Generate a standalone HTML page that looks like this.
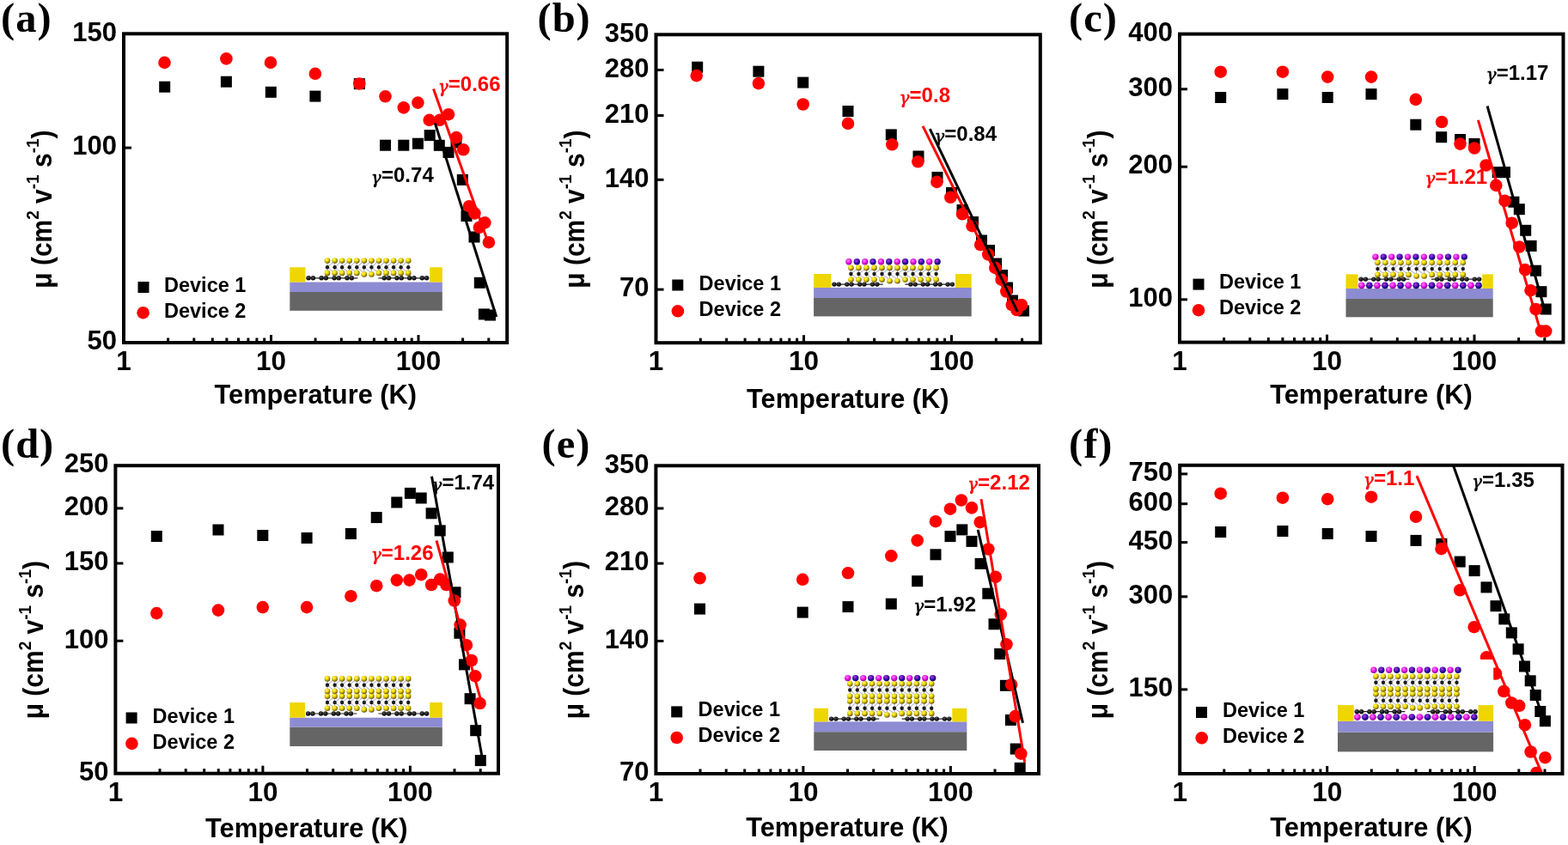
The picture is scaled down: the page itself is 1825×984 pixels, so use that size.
<!DOCTYPE html>
<html><head><meta charset="utf-8"><title>Temperature-dependent mobility</title>
<style>html,body{margin:0;padding:0;background:#fff;}svg{display:block;}</style></head>
<body>
<svg width="1825" height="984" viewBox="0 0 1825 984">
<rect width="1825" height="984" fill="#fff"/>
<defs>
<radialGradient id="gS" cx="38%" cy="32%" r="70%"><stop offset="0" stop-color="#ffff60"/><stop offset="0.45" stop-color="#ecd400"/><stop offset="1" stop-color="#5e4c00"/></radialGradient>
<radialGradient id="gMag" cx="40%" cy="35%" r="65%"><stop offset="0" stop-color="#ff80ff"/><stop offset="0.6" stop-color="#e010e0"/><stop offset="1" stop-color="#900090"/></radialGradient>
<radialGradient id="gBlu" cx="40%" cy="35%" r="65%"><stop offset="0" stop-color="#c030e0"/><stop offset="0.6" stop-color="#3010b0"/><stop offset="1" stop-color="#100050"/></radialGradient>
<radialGradient id="gC" cx="40%" cy="35%" r="70%"><stop offset="0" stop-color="#505050"/><stop offset="0.6" stop-color="#151515"/><stop offset="1" stop-color="#000"/></radialGradient>
<linearGradient id="gSi" x1="0" y1="0" x2="0" y2="1"><stop offset="0" stop-color="#676767"/><stop offset="1" stop-color="#626262"/></linearGradient>
</defs>
<g id="panel-a">
<clipPath id="clipa"><rect x="144" y="39.3" width="446.2" height="359.7"/></clipPath>
<rect x="337.3" y="340" width="177.5" height="21.8" fill="#656565"/>
<rect x="337.3" y="328.5" width="177.5" height="11.5" fill="#8d8bd2"/>
<rect x="337.3" y="311.3" width="18.2" height="17.2" fill="#efd600"/>
<rect x="500.2" y="311.3" width="14.6" height="17.2" fill="#efd600"/>
<line x1="356.5" y1="323.8" x2="416.4" y2="323.8" stroke="#222" stroke-width="1.2"/>
<circle cx="359.1" cy="323.8" r="2.7" fill="url(#gC)"/>
<circle cx="364.4" cy="323.8" r="2.7" fill="url(#gC)"/>
<circle cx="374.1" cy="323.8" r="2.7" fill="url(#gC)"/>
<circle cx="379.4" cy="323.8" r="2.7" fill="url(#gC)"/>
<circle cx="389.1" cy="323.8" r="2.7" fill="url(#gC)"/>
<circle cx="394.3" cy="323.8" r="2.7" fill="url(#gC)"/>
<circle cx="404" cy="323.8" r="2.7" fill="url(#gC)"/>
<circle cx="409.3" cy="323.8" r="2.7" fill="url(#gC)"/>
<line x1="440.4" y1="323.8" x2="499.2" y2="323.8" stroke="#222" stroke-width="1.2"/>
<circle cx="496.6" cy="323.8" r="2.7" fill="url(#gC)"/>
<circle cx="491.3" cy="323.8" r="2.7" fill="url(#gC)"/>
<circle cx="481.9" cy="323.8" r="2.7" fill="url(#gC)"/>
<circle cx="476.6" cy="323.8" r="2.7" fill="url(#gC)"/>
<circle cx="467.2" cy="323.8" r="2.7" fill="url(#gC)"/>
<circle cx="461.9" cy="323.8" r="2.7" fill="url(#gC)"/>
<circle cx="452.5" cy="323.8" r="2.7" fill="url(#gC)"/>
<circle cx="447.2" cy="323.8" r="2.7" fill="url(#gC)"/>
<g stroke="#9a9ab8" stroke-width="0.9"><line x1="381" y1="303.5" x2="381" y2="317.9"/><line x1="381" y1="311.3" x2="389.6" y2="303.5"/><line x1="381" y1="311.3" x2="389.6" y2="317.9"/><line x1="389.6" y1="303.5" x2="389.6" y2="317.9"/><line x1="389.6" y1="311.3" x2="398.1" y2="303.5"/><line x1="389.6" y1="311.3" x2="398.1" y2="317.9"/><line x1="398.1" y1="303.5" x2="398.1" y2="317.9"/><line x1="398.1" y1="311.3" x2="406.7" y2="303.5"/><line x1="398.1" y1="311.3" x2="406.7" y2="317.9"/><line x1="406.7" y1="303.5" x2="406.7" y2="317.9"/><line x1="406.7" y1="311.3" x2="415.3" y2="303.5"/><line x1="406.7" y1="311.3" x2="415.3" y2="317.9"/><line x1="415.3" y1="303.5" x2="415.3" y2="317.9"/><line x1="415.3" y1="311.3" x2="423.8" y2="303.5"/><line x1="415.3" y1="311.3" x2="423.8" y2="317.9"/><line x1="423.8" y1="303.5" x2="423.8" y2="317.9"/><line x1="423.8" y1="311.3" x2="432.4" y2="303.5"/><line x1="423.8" y1="311.3" x2="432.4" y2="317.9"/><line x1="432.4" y1="303.5" x2="432.4" y2="317.9"/><line x1="432.4" y1="311.3" x2="440.9" y2="303.5"/><line x1="432.4" y1="311.3" x2="440.9" y2="317.9"/><line x1="440.9" y1="303.5" x2="440.9" y2="317.9"/><line x1="440.9" y1="311.3" x2="449.5" y2="303.5"/><line x1="440.9" y1="311.3" x2="449.5" y2="317.9"/><line x1="449.5" y1="303.5" x2="449.5" y2="317.9"/><line x1="449.5" y1="311.3" x2="458.1" y2="303.5"/><line x1="449.5" y1="311.3" x2="458.1" y2="317.9"/><line x1="458.1" y1="303.5" x2="458.1" y2="317.9"/><line x1="458.1" y1="311.3" x2="466.6" y2="303.5"/><line x1="458.1" y1="311.3" x2="466.6" y2="317.9"/><line x1="466.6" y1="303.5" x2="466.6" y2="317.9"/><line x1="466.6" y1="311.3" x2="475.2" y2="303.5"/><line x1="466.6" y1="311.3" x2="475.2" y2="317.9"/><line x1="475.2" y1="303.5" x2="475.2" y2="317.9"/></g>
<circle cx="381" cy="303.5" r="3.3" fill="url(#gS)"/>
<circle cx="381" cy="311.3" r="2.2" fill="#1a1a1a"/>
<circle cx="381" cy="317.9" r="3.3" fill="url(#gS)"/>
<circle cx="389.6" cy="303.5" r="3.3" fill="url(#gS)"/>
<circle cx="389.6" cy="311.3" r="2.2" fill="#1a1a1a"/>
<circle cx="389.6" cy="317.9" r="3.3" fill="url(#gS)"/>
<circle cx="398.1" cy="303.5" r="3.3" fill="url(#gS)"/>
<circle cx="398.1" cy="311.3" r="2.2" fill="#1a1a1a"/>
<circle cx="398.1" cy="317.9" r="3.3" fill="url(#gS)"/>
<circle cx="406.7" cy="303.5" r="3.3" fill="url(#gS)"/>
<circle cx="406.7" cy="311.3" r="2.2" fill="#1a1a1a"/>
<circle cx="406.7" cy="317.9" r="3.3" fill="url(#gS)"/>
<circle cx="415.3" cy="303.5" r="3.3" fill="url(#gS)"/>
<circle cx="415.3" cy="311.3" r="2.2" fill="#1a1a1a"/>
<circle cx="415.3" cy="317.9" r="3.3" fill="url(#gS)"/>
<circle cx="423.8" cy="303.5" r="3.3" fill="url(#gS)"/>
<circle cx="423.8" cy="311.3" r="2.2" fill="#1a1a1a"/>
<circle cx="423.8" cy="319.5" r="3.3" fill="url(#gS)"/>
<circle cx="432.4" cy="303.5" r="3.3" fill="url(#gS)"/>
<circle cx="432.4" cy="311.3" r="2.2" fill="#1a1a1a"/>
<circle cx="432.4" cy="319.5" r="3.3" fill="url(#gS)"/>
<circle cx="440.9" cy="303.5" r="3.3" fill="url(#gS)"/>
<circle cx="440.9" cy="311.3" r="2.2" fill="#1a1a1a"/>
<circle cx="440.9" cy="317.9" r="3.3" fill="url(#gS)"/>
<circle cx="449.5" cy="303.5" r="3.3" fill="url(#gS)"/>
<circle cx="449.5" cy="311.3" r="2.2" fill="#1a1a1a"/>
<circle cx="449.5" cy="317.9" r="3.3" fill="url(#gS)"/>
<circle cx="458.1" cy="303.5" r="3.3" fill="url(#gS)"/>
<circle cx="458.1" cy="311.3" r="2.2" fill="#1a1a1a"/>
<circle cx="458.1" cy="317.9" r="3.3" fill="url(#gS)"/>
<circle cx="466.6" cy="303.5" r="3.3" fill="url(#gS)"/>
<circle cx="466.6" cy="311.3" r="2.2" fill="#1a1a1a"/>
<circle cx="466.6" cy="317.9" r="3.3" fill="url(#gS)"/>
<circle cx="475.2" cy="303.5" r="3.3" fill="url(#gS)"/>
<circle cx="475.2" cy="311.3" r="2.2" fill="#1a1a1a"/>
<circle cx="475.2" cy="317.9" r="3.3" fill="url(#gS)"/>
<g clip-path="url(#clipa)">
<rect x="185.2" y="94.7" width="13" height="13" fill="#000"/>
<rect x="256.9" y="88.7" width="13" height="13" fill="#000"/>
<rect x="308.8" y="100.8" width="13" height="13" fill="#000"/>
<rect x="360.4" y="105.6" width="13" height="13" fill="#000"/>
<rect x="411.8" y="91.1" width="13" height="13" fill="#000"/>
<rect x="442" y="162.7" width="13" height="13" fill="#000"/>
<rect x="463.3" y="162.7" width="13" height="13" fill="#000"/>
<rect x="479.9" y="160.7" width="13" height="13" fill="#000"/>
<rect x="493.7" y="151.1" width="13" height="13" fill="#000"/>
<rect x="504.8" y="162.8" width="13" height="13" fill="#000"/>
<rect x="515.5" y="170.9" width="13" height="13" fill="#000"/>
<rect x="524.5" y="159.5" width="13" height="13" fill="#000"/>
<rect x="531.8" y="202.9" width="13" height="13" fill="#000"/>
<rect x="536.5" y="245" width="13" height="13" fill="#000"/>
<rect x="545.5" y="269.5" width="13" height="13" fill="#000"/>
<rect x="551.8" y="322.8" width="13" height="13" fill="#000"/>
<rect x="556.9" y="359.4" width="13" height="13" fill="#000"/>
<rect x="564" y="360.5" width="13" height="13" fill="#000"/>
<circle cx="191.5" cy="72.9" r="7.3" fill="#ff0000"/>
<circle cx="263.4" cy="68.4" r="7.3" fill="#ff0000"/>
<circle cx="315" cy="72.9" r="7.3" fill="#ff0000"/>
<circle cx="366.9" cy="85.8" r="7.3" fill="#ff0000"/>
<circle cx="418.3" cy="97.5" r="7.3" fill="#ff0000"/>
<circle cx="448.5" cy="112.3" r="7.3" fill="#ff0000"/>
<circle cx="469.8" cy="125.4" r="7.3" fill="#ff0000"/>
<circle cx="486.4" cy="119.6" r="7.3" fill="#ff0000"/>
<circle cx="499.7" cy="139.8" r="7.3" fill="#ff0000"/>
<circle cx="511.8" cy="139.8" r="7.3" fill="#ff0000"/>
<circle cx="522" cy="133.2" r="7.3" fill="#ff0000"/>
<circle cx="531.1" cy="160.1" r="7.3" fill="#ff0000"/>
<circle cx="539.3" cy="174.3" r="7.3" fill="#ff0000"/>
<circle cx="546" cy="240.2" r="7.3" fill="#ff0000"/>
<circle cx="552.4" cy="248.4" r="7.3" fill="#ff0000"/>
<circle cx="557.9" cy="264.8" r="7.3" fill="#ff0000"/>
<circle cx="564.3" cy="259.4" r="7.3" fill="#ff0000"/>
<circle cx="568.9" cy="282.2" r="7.3" fill="#ff0000"/>
<line x1="506.3" y1="143.4" x2="577.8" y2="369" stroke="#000" stroke-width="3"/>
<line x1="504.5" y1="103.6" x2="568" y2="282" stroke="#ff0000" stroke-width="3"/>
</g>
<rect x="144" y="39.3" width="446.2" height="359.7" fill="none" stroke="#000" stroke-width="4"/>
<g stroke="#000" stroke-width="3"><line x1="195.6" y1="399" x2="195.6" y2="393.5"/><line x1="225.8" y1="399" x2="225.8" y2="393.5"/><line x1="247.3" y1="399" x2="247.3" y2="393.5"/><line x1="263.9" y1="399" x2="263.9" y2="393.5"/><line x1="277.5" y1="399" x2="277.5" y2="393.5"/><line x1="288.9" y1="399" x2="288.9" y2="393.5"/><line x1="298.9" y1="399" x2="298.9" y2="393.5"/><line x1="307.7" y1="399" x2="307.7" y2="393.5"/><line x1="315.5" y1="399" x2="315.5" y2="390"/><line x1="367.1" y1="399" x2="367.1" y2="393.5"/><line x1="397.3" y1="399" x2="397.3" y2="393.5"/><line x1="418.8" y1="399" x2="418.8" y2="393.5"/><line x1="435.4" y1="399" x2="435.4" y2="393.5"/><line x1="449" y1="399" x2="449" y2="393.5"/><line x1="460.4" y1="399" x2="460.4" y2="393.5"/><line x1="470.4" y1="399" x2="470.4" y2="393.5"/><line x1="479.2" y1="399" x2="479.2" y2="393.5"/><line x1="487" y1="399" x2="487" y2="390"/><line x1="538.6" y1="399" x2="538.6" y2="393.5"/><line x1="568.8" y1="399" x2="568.8" y2="393.5"/><line x1="144" y1="172.1" x2="153" y2="172.1"/></g>
<g font-family="'Liberation Sans', Arial, sans-serif" font-weight="bold" font-size="31.5" fill="#000">
<text x="144" y="431" text-anchor="middle">1</text>
<text x="315.5" y="431" text-anchor="middle">10</text>
<text x="487" y="431" text-anchor="middle">100</text>
</g>
<g font-family="'Liberation Sans', Arial, sans-serif" font-weight="bold" font-size="31" fill="#000">
<text x="136" y="407.2" text-anchor="end">50</text>
<text x="136" y="180.3" text-anchor="end">100</text>
<text x="136" y="47.5" text-anchor="end">150</text>
</g>
<text x="367.3" y="469.5" text-anchor="middle" font-family="'Liberation Sans', Arial, sans-serif" font-weight="bold" font-size="30.8">Temperature (K)</text>
<text transform="translate(60,243.6) rotate(-90) scale(1,1.09)" text-anchor="middle" font-family="'Liberation Sans', Arial, sans-serif" font-weight="bold" font-size="30">μ (cm<tspan font-size="19" dy="-13.5">2</tspan><tspan dy="13.5"> v</tspan><tspan font-size="19" dy="-13.5">-1</tspan><tspan dy="13.5"> s</tspan><tspan font-size="19" dy="-13.5">-1</tspan><tspan dy="13.5">)</tspan></text>
<rect x="160.5" y="328" width="13" height="13" fill="#000"/>
<circle cx="166.6" cy="364.2" r="7.3" fill="#ff0000"/>
<text x="191" y="340" font-family="'Liberation Sans', Arial, sans-serif" font-weight="bold" font-size="23.5">Device 1</text>
<text x="191" y="369.6" font-family="'Liberation Sans', Arial, sans-serif" font-weight="bold" font-size="23.5">Device 2</text>
<text x="509.9" y="107.6" fill="#ff0000" stroke="#ff0000" stroke-width="0.6" font-family="'DejaVu Serif', serif" font-style="italic" font-size="19.5">γ</text>
<text x="521.8" y="106" fill="#ff0000" font-family="'Liberation Sans', Arial, sans-serif" font-weight="bold" font-size="24">=0.66</text>
<text x="432.1" y="213.5" fill="#000" stroke="#000" stroke-width="0.6" font-family="'DejaVu Serif', serif" font-style="italic" font-size="19.5">γ</text>
<text x="444" y="211.9" fill="#000" font-family="'Liberation Sans', Arial, sans-serif" font-weight="bold" font-size="24">=0.74</text>
<text x="1" y="37" font-family="'Liberation Serif', 'Times New Roman', serif" font-weight="bold" font-size="48.5" letter-spacing="1">(a)</text>
</g>
<g id="panel-b">
<clipPath id="clipb"><rect x="763.5" y="40.3" width="447.3" height="358.9"/></clipPath>
<rect x="947.1" y="347" width="183.6" height="21.4" fill="#656565"/>
<rect x="947.1" y="334.9" width="183.6" height="12.1" fill="#8d8bd2"/>
<rect x="947.1" y="319" width="20.3" height="15.9" fill="#efd600"/>
<rect x="1112" y="319" width="18.7" height="15.9" fill="#efd600"/>
<line x1="968.4" y1="331.1" x2="1027.7" y2="331.1" stroke="#222" stroke-width="1.2"/>
<circle cx="971" cy="331.1" r="2.7" fill="url(#gC)"/>
<circle cx="976.3" cy="331.1" r="2.7" fill="url(#gC)"/>
<circle cx="985.8" cy="331.1" r="2.7" fill="url(#gC)"/>
<circle cx="991.1" cy="331.1" r="2.7" fill="url(#gC)"/>
<circle cx="1000.6" cy="331.1" r="2.7" fill="url(#gC)"/>
<circle cx="1005.9" cy="331.1" r="2.7" fill="url(#gC)"/>
<circle cx="1015.5" cy="331.1" r="2.7" fill="url(#gC)"/>
<circle cx="1020.8" cy="331.1" r="2.7" fill="url(#gC)"/>
<line x1="1053.4" y1="331.1" x2="1111" y2="331.1" stroke="#222" stroke-width="1.2"/>
<circle cx="1108.4" cy="331.1" r="2.7" fill="url(#gC)"/>
<circle cx="1103.1" cy="331.1" r="2.7" fill="url(#gC)"/>
<circle cx="1094" cy="331.1" r="2.7" fill="url(#gC)"/>
<circle cx="1088.7" cy="331.1" r="2.7" fill="url(#gC)"/>
<circle cx="1079.6" cy="331.1" r="2.7" fill="url(#gC)"/>
<circle cx="1074.3" cy="331.1" r="2.7" fill="url(#gC)"/>
<circle cx="1065.2" cy="331.1" r="2.7" fill="url(#gC)"/>
<circle cx="1059.9" cy="331.1" r="2.7" fill="url(#gC)"/>
<g stroke="#9a9ab8" stroke-width="0.9"><line x1="990.4" y1="311.9" x2="990.4" y2="325.6"/><line x1="990.4" y1="319" x2="999.4" y2="311.9"/><line x1="990.4" y1="319" x2="999.4" y2="325.6"/><line x1="999.4" y1="311.9" x2="999.4" y2="325.6"/><line x1="999.4" y1="319" x2="1008.4" y2="311.9"/><line x1="999.4" y1="319" x2="1008.4" y2="325.6"/><line x1="1008.4" y1="311.9" x2="1008.4" y2="325.6"/><line x1="1008.4" y1="319" x2="1017.5" y2="311.9"/><line x1="1008.4" y1="319" x2="1017.5" y2="325.6"/><line x1="1017.5" y1="311.9" x2="1017.5" y2="325.6"/><line x1="1017.5" y1="319" x2="1026.5" y2="311.9"/><line x1="1017.5" y1="319" x2="1026.5" y2="325.6"/><line x1="1026.5" y1="311.9" x2="1026.5" y2="325.6"/><line x1="1026.5" y1="319" x2="1035.5" y2="311.9"/><line x1="1026.5" y1="319" x2="1035.5" y2="325.6"/><line x1="1035.5" y1="311.9" x2="1035.5" y2="325.6"/><line x1="1035.5" y1="319" x2="1044.5" y2="311.9"/><line x1="1035.5" y1="319" x2="1044.5" y2="325.6"/><line x1="1044.5" y1="311.9" x2="1044.5" y2="325.6"/><line x1="1044.5" y1="319" x2="1053.5" y2="311.9"/><line x1="1044.5" y1="319" x2="1053.5" y2="325.6"/><line x1="1053.5" y1="311.9" x2="1053.5" y2="325.6"/><line x1="1053.5" y1="319" x2="1062.5" y2="311.9"/><line x1="1053.5" y1="319" x2="1062.5" y2="325.6"/><line x1="1062.5" y1="311.9" x2="1062.5" y2="325.6"/><line x1="1062.5" y1="319" x2="1071.6" y2="311.9"/><line x1="1062.5" y1="319" x2="1071.6" y2="325.6"/><line x1="1071.6" y1="311.9" x2="1071.6" y2="325.6"/><line x1="1071.6" y1="319" x2="1080.6" y2="311.9"/><line x1="1071.6" y1="319" x2="1080.6" y2="325.6"/><line x1="1080.6" y1="311.9" x2="1080.6" y2="325.6"/><line x1="1080.6" y1="319" x2="1089.6" y2="311.9"/><line x1="1080.6" y1="319" x2="1089.6" y2="325.6"/><line x1="1089.6" y1="311.9" x2="1089.6" y2="325.6"/></g>
<circle cx="990.4" cy="311.9" r="3.3" fill="url(#gS)"/>
<circle cx="990.4" cy="319" r="2.2" fill="#1a1a1a"/>
<circle cx="990.4" cy="325.6" r="3.3" fill="url(#gS)"/>
<circle cx="999.4" cy="311.9" r="3.3" fill="url(#gS)"/>
<circle cx="999.4" cy="319" r="2.2" fill="#1a1a1a"/>
<circle cx="999.4" cy="325.6" r="3.3" fill="url(#gS)"/>
<circle cx="1008.4" cy="311.9" r="3.3" fill="url(#gS)"/>
<circle cx="1008.4" cy="319" r="2.2" fill="#1a1a1a"/>
<circle cx="1008.4" cy="325.6" r="3.3" fill="url(#gS)"/>
<circle cx="1017.5" cy="311.9" r="3.3" fill="url(#gS)"/>
<circle cx="1017.5" cy="319" r="2.2" fill="#1a1a1a"/>
<circle cx="1017.5" cy="325.6" r="3.3" fill="url(#gS)"/>
<circle cx="1026.5" cy="311.9" r="3.3" fill="url(#gS)"/>
<circle cx="1026.5" cy="319" r="2.2" fill="#1a1a1a"/>
<circle cx="1026.5" cy="325.6" r="3.3" fill="url(#gS)"/>
<circle cx="1035.5" cy="311.9" r="3.3" fill="url(#gS)"/>
<circle cx="1035.5" cy="319" r="2.2" fill="#1a1a1a"/>
<circle cx="1035.5" cy="327.2" r="3.3" fill="url(#gS)"/>
<circle cx="1044.5" cy="311.9" r="3.3" fill="url(#gS)"/>
<circle cx="1044.5" cy="319" r="2.2" fill="#1a1a1a"/>
<circle cx="1044.5" cy="327.2" r="3.3" fill="url(#gS)"/>
<circle cx="1053.5" cy="311.9" r="3.3" fill="url(#gS)"/>
<circle cx="1053.5" cy="319" r="2.2" fill="#1a1a1a"/>
<circle cx="1053.5" cy="325.6" r="3.3" fill="url(#gS)"/>
<circle cx="1062.5" cy="311.9" r="3.3" fill="url(#gS)"/>
<circle cx="1062.5" cy="319" r="2.2" fill="#1a1a1a"/>
<circle cx="1062.5" cy="325.6" r="3.3" fill="url(#gS)"/>
<circle cx="1071.6" cy="311.9" r="3.3" fill="url(#gS)"/>
<circle cx="1071.6" cy="319" r="2.2" fill="#1a1a1a"/>
<circle cx="1071.6" cy="325.6" r="3.3" fill="url(#gS)"/>
<circle cx="1080.6" cy="311.9" r="3.3" fill="url(#gS)"/>
<circle cx="1080.6" cy="319" r="2.2" fill="#1a1a1a"/>
<circle cx="1080.6" cy="325.6" r="3.3" fill="url(#gS)"/>
<circle cx="1089.6" cy="311.9" r="3.3" fill="url(#gS)"/>
<circle cx="1089.6" cy="319" r="2.2" fill="#1a1a1a"/>
<circle cx="1089.6" cy="325.6" r="3.3" fill="url(#gS)"/>
<circle cx="987.9" cy="304.8" r="3.7" fill="url(#gMag)"/>
<circle cx="997.3" cy="304.8" r="3.7" fill="url(#gBlu)"/>
<circle cx="1006.7" cy="304.8" r="3.7" fill="url(#gMag)"/>
<circle cx="1016" cy="304.8" r="3.7" fill="url(#gBlu)"/>
<circle cx="1025.4" cy="304.8" r="3.7" fill="url(#gMag)"/>
<circle cx="1034.8" cy="304.8" r="3.7" fill="url(#gBlu)"/>
<circle cx="1044.2" cy="304.8" r="3.7" fill="url(#gMag)"/>
<circle cx="1053.6" cy="304.8" r="3.7" fill="url(#gBlu)"/>
<circle cx="1063" cy="304.8" r="3.7" fill="url(#gMag)"/>
<circle cx="1072.3" cy="304.8" r="3.7" fill="url(#gBlu)"/>
<circle cx="1081.7" cy="304.8" r="3.7" fill="url(#gMag)"/>
<circle cx="1091.1" cy="304.8" r="3.7" fill="url(#gBlu)"/>
<g clip-path="url(#clipb)">
<rect x="805.2" y="71.7" width="13" height="13" fill="#000"/>
<rect x="876.4" y="76.7" width="13" height="13" fill="#000"/>
<rect x="928.2" y="89.6" width="13" height="13" fill="#000"/>
<rect x="980.5" y="123" width="13" height="13" fill="#000"/>
<rect x="1030.8" y="150.4" width="13" height="13" fill="#000"/>
<rect x="1062.5" y="175.5" width="13" height="13" fill="#000"/>
<rect x="1084.5" y="200" width="13" height="13" fill="#000"/>
<rect x="1101" y="218" width="13" height="13" fill="#000"/>
<rect x="1113.5" y="238" width="13" height="13" fill="#000"/>
<rect x="1126" y="252" width="13" height="13" fill="#000"/>
<rect x="1136" y="273.5" width="13" height="13" fill="#000"/>
<rect x="1145" y="285" width="13" height="13" fill="#000"/>
<rect x="1153" y="300.5" width="13" height="13" fill="#000"/>
<rect x="1160" y="314" width="13" height="13" fill="#000"/>
<rect x="1166" y="328.5" width="13" height="13" fill="#000"/>
<rect x="1172" y="343.5" width="13" height="13" fill="#000"/>
<rect x="1178.5" y="350.5" width="13" height="13" fill="#000"/>
<rect x="1185" y="355.5" width="13" height="13" fill="#000"/>
<circle cx="810.7" cy="88.1" r="7.3" fill="#ff0000"/>
<circle cx="882.9" cy="97.1" r="7.3" fill="#ff0000"/>
<circle cx="934.7" cy="121.5" r="7.3" fill="#ff0000"/>
<circle cx="987" cy="143.9" r="7.3" fill="#ff0000"/>
<circle cx="1038.3" cy="168.3" r="7.3" fill="#ff0000"/>
<circle cx="1068.4" cy="188.3" r="7.3" fill="#ff0000"/>
<circle cx="1090.4" cy="211.9" r="7.3" fill="#ff0000"/>
<circle cx="1106.3" cy="229.8" r="7.3" fill="#ff0000"/>
<circle cx="1120.1" cy="249.3" r="7.3" fill="#ff0000"/>
<circle cx="1131.5" cy="263.1" r="7.3" fill="#ff0000"/>
<circle cx="1141.2" cy="285" r="7.3" fill="#ff0000"/>
<circle cx="1150.2" cy="296.4" r="7.3" fill="#ff0000"/>
<circle cx="1158.3" cy="311.9" r="7.3" fill="#ff0000"/>
<circle cx="1165.6" cy="325.7" r="7.3" fill="#ff0000"/>
<circle cx="1171.3" cy="339.5" r="7.3" fill="#ff0000"/>
<circle cx="1177.8" cy="355" r="7.3" fill="#ff0000"/>
<circle cx="1183.5" cy="361" r="7.3" fill="#ff0000"/>
<circle cx="1188.9" cy="355" r="7.3" fill="#ff0000"/>
<line x1="1074.1" y1="146.9" x2="1180" y2="360" stroke="#ff0000" stroke-width="3"/>
<line x1="1082.3" y1="150.1" x2="1184.3" y2="363.1" stroke="#000" stroke-width="3"/>
</g>
<rect x="763.5" y="40.3" width="447.3" height="358.9" fill="none" stroke="#000" stroke-width="4"/>
<g stroke="#000" stroke-width="3"><line x1="815.3" y1="399.2" x2="815.3" y2="393.7"/><line x1="845.6" y1="399.2" x2="845.6" y2="393.7"/><line x1="867.1" y1="399.2" x2="867.1" y2="393.7"/><line x1="883.7" y1="399.2" x2="883.7" y2="393.7"/><line x1="897.3" y1="399.2" x2="897.3" y2="393.7"/><line x1="908.9" y1="399.2" x2="908.9" y2="393.7"/><line x1="918.8" y1="399.2" x2="918.8" y2="393.7"/><line x1="927.6" y1="399.2" x2="927.6" y2="393.7"/><line x1="935.5" y1="399.2" x2="935.5" y2="390.2"/><line x1="987.3" y1="399.2" x2="987.3" y2="393.7"/><line x1="1017.6" y1="399.2" x2="1017.6" y2="393.7"/><line x1="1039.1" y1="399.2" x2="1039.1" y2="393.7"/><line x1="1055.7" y1="399.2" x2="1055.7" y2="393.7"/><line x1="1069.3" y1="399.2" x2="1069.3" y2="393.7"/><line x1="1080.9" y1="399.2" x2="1080.9" y2="393.7"/><line x1="1090.8" y1="399.2" x2="1090.8" y2="393.7"/><line x1="1099.6" y1="399.2" x2="1099.6" y2="393.7"/><line x1="1107.5" y1="399.2" x2="1107.5" y2="390.2"/><line x1="1159.3" y1="399.2" x2="1159.3" y2="393.7"/><line x1="1189.6" y1="399.2" x2="1189.6" y2="393.7"/><line x1="763.5" y1="337.1" x2="772.5" y2="337.1"/><line x1="763.5" y1="209.3" x2="772.5" y2="209.3"/><line x1="763.5" y1="134.5" x2="772.5" y2="134.5"/><line x1="763.5" y1="81.5" x2="772.5" y2="81.5"/></g>
<g font-family="'Liberation Sans', Arial, sans-serif" font-weight="bold" font-size="31.5" fill="#000">
<text x="763.5" y="431.2" text-anchor="middle">1</text>
<text x="935.5" y="431.2" text-anchor="middle">10</text>
<text x="1107.5" y="431.2" text-anchor="middle">100</text>
</g>
<g font-family="'Liberation Sans', Arial, sans-serif" font-weight="bold" font-size="31" fill="#000">
<text x="755.5" y="345.3" text-anchor="end">70</text>
<text x="755.5" y="217.5" text-anchor="end">140</text>
<text x="755.5" y="142.7" text-anchor="end">210</text>
<text x="755.5" y="89.7" text-anchor="end">280</text>
<text x="755.5" y="48.5" text-anchor="end">350</text>
</g>
<text x="986.8" y="474.5" text-anchor="middle" font-family="'Liberation Sans', Arial, sans-serif" font-weight="bold" font-size="30.8">Temperature (K)</text>
<text transform="translate(679.5,243.6) rotate(-90) scale(1,1.09)" text-anchor="middle" font-family="'Liberation Sans', Arial, sans-serif" font-weight="bold" font-size="30">μ (cm<tspan font-size="19" dy="-13.5">2</tspan><tspan dy="13.5"> v</tspan><tspan font-size="19" dy="-13.5">-1</tspan><tspan dy="13.5"> s</tspan><tspan font-size="19" dy="-13.5">-1</tspan><tspan dy="13.5">)</tspan></text>
<rect x="782.3" y="325.5" width="13" height="13" fill="#000"/>
<circle cx="788.9" cy="362.3" r="7.3" fill="#ff0000"/>
<text x="813.6" y="337.7" font-family="'Liberation Sans', Arial, sans-serif" font-weight="bold" font-size="23.5">Device 1</text>
<text x="813.6" y="367.6" font-family="'Liberation Sans', Arial, sans-serif" font-weight="bold" font-size="23.5">Device 2</text>
<text x="1046.7" y="120.9" fill="#ff0000" stroke="#ff0000" stroke-width="0.6" font-family="'DejaVu Serif', serif" font-style="italic" font-size="19.5">γ</text>
<text x="1058.6" y="119.3" fill="#ff0000" font-family="'Liberation Sans', Arial, sans-serif" font-weight="bold" font-size="24">=0.8</text>
<text x="1087.4" y="165.6" fill="#000" stroke="#000" stroke-width="0.6" font-family="'DejaVu Serif', serif" font-style="italic" font-size="19.5">γ</text>
<text x="1099.3" y="164" fill="#000" font-family="'Liberation Sans', Arial, sans-serif" font-weight="bold" font-size="24">=0.84</text>
<text x="625.5" y="37" font-family="'Liberation Serif', 'Times New Roman', serif" font-weight="bold" font-size="48.5" letter-spacing="1">(b)</text>
</g>
<g id="panel-c">
<clipPath id="clipc"><rect x="1373" y="39.6" width="446.5" height="359"/></clipPath>
<rect x="1566.5" y="348" width="171.2" height="21.3" fill="#656565"/>
<rect x="1566.5" y="336" width="171.2" height="12" fill="#8d8bd2"/>
<rect x="1566.5" y="319.4" width="14" height="16.6" fill="#efd600"/>
<rect x="1725.2" y="319.4" width="12.5" height="16.6" fill="#efd600"/>
<line x1="1584.7" y1="332.4" x2="1721" y2="332.4" stroke="#b070b0" stroke-width="1"/>
<circle cx="1584.7" cy="332.4" r="3.8" fill="url(#gMag)"/>
<circle cx="1593.8" cy="332.4" r="3.8" fill="url(#gBlu)"/>
<circle cx="1602.9" cy="332.4" r="3.8" fill="url(#gMag)"/>
<circle cx="1612" cy="332.4" r="3.8" fill="url(#gBlu)"/>
<circle cx="1621" cy="332.4" r="3.8" fill="url(#gMag)"/>
<circle cx="1630.1" cy="332.4" r="3.8" fill="url(#gBlu)"/>
<circle cx="1639.2" cy="332.4" r="3.8" fill="url(#gMag)"/>
<circle cx="1648.3" cy="332.4" r="3.8" fill="url(#gBlu)"/>
<circle cx="1657.4" cy="332.4" r="3.8" fill="url(#gMag)"/>
<circle cx="1666.5" cy="332.4" r="3.8" fill="url(#gBlu)"/>
<circle cx="1675.6" cy="332.4" r="3.8" fill="url(#gMag)"/>
<circle cx="1684.7" cy="332.4" r="3.8" fill="url(#gBlu)"/>
<circle cx="1693.7" cy="332.4" r="3.8" fill="url(#gMag)"/>
<circle cx="1702.8" cy="332.4" r="3.8" fill="url(#gBlu)"/>
<circle cx="1711.9" cy="332.4" r="3.8" fill="url(#gMag)"/>
<circle cx="1721" cy="332.4" r="3.8" fill="url(#gBlu)"/>
<line x1="1581.5" y1="325.1" x2="1640.4" y2="325.1" stroke="#222" stroke-width="1.2"/>
<circle cx="1584.1" cy="325.1" r="2.7" fill="url(#gC)"/>
<circle cx="1589.4" cy="325.1" r="2.7" fill="url(#gC)"/>
<circle cx="1598.8" cy="325.1" r="2.7" fill="url(#gC)"/>
<circle cx="1604.1" cy="325.1" r="2.7" fill="url(#gC)"/>
<circle cx="1613.5" cy="325.1" r="2.7" fill="url(#gC)"/>
<circle cx="1618.9" cy="325.1" r="2.7" fill="url(#gC)"/>
<circle cx="1628.3" cy="325.1" r="2.7" fill="url(#gC)"/>
<circle cx="1633.6" cy="325.1" r="2.7" fill="url(#gC)"/>
<line x1="1665.9" y1="325.1" x2="1724.2" y2="325.1" stroke="#222" stroke-width="1.2"/>
<circle cx="1721.6" cy="325.1" r="2.7" fill="url(#gC)"/>
<circle cx="1716.3" cy="325.1" r="2.7" fill="url(#gC)"/>
<circle cx="1707" cy="325.1" r="2.7" fill="url(#gC)"/>
<circle cx="1701.7" cy="325.1" r="2.7" fill="url(#gC)"/>
<circle cx="1692.5" cy="325.1" r="2.7" fill="url(#gC)"/>
<circle cx="1687.2" cy="325.1" r="2.7" fill="url(#gC)"/>
<circle cx="1677.9" cy="325.1" r="2.7" fill="url(#gC)"/>
<circle cx="1672.6" cy="325.1" r="2.7" fill="url(#gC)"/>
<g stroke="#9a9ab8" stroke-width="0.9"><line x1="1603.4" y1="305.8" x2="1603.4" y2="319.9"/><line x1="1603.4" y1="313.1" x2="1612.4" y2="305.8"/><line x1="1603.4" y1="313.1" x2="1612.4" y2="319.9"/><line x1="1612.4" y1="305.8" x2="1612.4" y2="319.9"/><line x1="1612.4" y1="313.1" x2="1621.5" y2="305.8"/><line x1="1612.4" y1="313.1" x2="1621.5" y2="319.9"/><line x1="1621.5" y1="305.8" x2="1621.5" y2="319.9"/><line x1="1621.5" y1="313.1" x2="1630.5" y2="305.8"/><line x1="1621.5" y1="313.1" x2="1630.5" y2="319.9"/><line x1="1630.5" y1="305.8" x2="1630.5" y2="319.9"/><line x1="1630.5" y1="313.1" x2="1639.5" y2="305.8"/><line x1="1630.5" y1="313.1" x2="1639.5" y2="319.9"/><line x1="1639.5" y1="305.8" x2="1639.5" y2="319.9"/><line x1="1639.5" y1="313.1" x2="1648.6" y2="305.8"/><line x1="1639.5" y1="313.1" x2="1648.6" y2="319.9"/><line x1="1648.6" y1="305.8" x2="1648.6" y2="319.9"/><line x1="1648.6" y1="313.1" x2="1657.6" y2="305.8"/><line x1="1648.6" y1="313.1" x2="1657.6" y2="319.9"/><line x1="1657.6" y1="305.8" x2="1657.6" y2="319.9"/><line x1="1657.6" y1="313.1" x2="1666.7" y2="305.8"/><line x1="1657.6" y1="313.1" x2="1666.7" y2="319.9"/><line x1="1666.7" y1="305.8" x2="1666.7" y2="319.9"/><line x1="1666.7" y1="313.1" x2="1675.7" y2="305.8"/><line x1="1666.7" y1="313.1" x2="1675.7" y2="319.9"/><line x1="1675.7" y1="305.8" x2="1675.7" y2="319.9"/><line x1="1675.7" y1="313.1" x2="1684.7" y2="305.8"/><line x1="1675.7" y1="313.1" x2="1684.7" y2="319.9"/><line x1="1684.7" y1="305.8" x2="1684.7" y2="319.9"/><line x1="1684.7" y1="313.1" x2="1693.8" y2="305.8"/><line x1="1684.7" y1="313.1" x2="1693.8" y2="319.9"/><line x1="1693.8" y1="305.8" x2="1693.8" y2="319.9"/><line x1="1693.8" y1="313.1" x2="1702.8" y2="305.8"/><line x1="1693.8" y1="313.1" x2="1702.8" y2="319.9"/><line x1="1702.8" y1="305.8" x2="1702.8" y2="319.9"/></g>
<circle cx="1603.4" cy="305.8" r="3.3" fill="url(#gS)"/>
<circle cx="1603.4" cy="313.1" r="2.2" fill="#1a1a1a"/>
<circle cx="1603.4" cy="319.9" r="3.3" fill="url(#gS)"/>
<circle cx="1612.4" cy="305.8" r="3.3" fill="url(#gS)"/>
<circle cx="1612.4" cy="313.1" r="2.2" fill="#1a1a1a"/>
<circle cx="1612.4" cy="319.9" r="3.3" fill="url(#gS)"/>
<circle cx="1621.5" cy="305.8" r="3.3" fill="url(#gS)"/>
<circle cx="1621.5" cy="313.1" r="2.2" fill="#1a1a1a"/>
<circle cx="1621.5" cy="319.9" r="3.3" fill="url(#gS)"/>
<circle cx="1630.5" cy="305.8" r="3.3" fill="url(#gS)"/>
<circle cx="1630.5" cy="313.1" r="2.2" fill="#1a1a1a"/>
<circle cx="1630.5" cy="319.9" r="3.3" fill="url(#gS)"/>
<circle cx="1639.5" cy="305.8" r="3.3" fill="url(#gS)"/>
<circle cx="1639.5" cy="313.1" r="2.2" fill="#1a1a1a"/>
<circle cx="1639.5" cy="319.9" r="3.3" fill="url(#gS)"/>
<circle cx="1648.6" cy="305.8" r="3.3" fill="url(#gS)"/>
<circle cx="1648.6" cy="313.1" r="2.2" fill="#1a1a1a"/>
<circle cx="1648.6" cy="321.5" r="3.3" fill="url(#gS)"/>
<circle cx="1657.6" cy="305.8" r="3.3" fill="url(#gS)"/>
<circle cx="1657.6" cy="313.1" r="2.2" fill="#1a1a1a"/>
<circle cx="1657.6" cy="321.5" r="3.3" fill="url(#gS)"/>
<circle cx="1666.7" cy="305.8" r="3.3" fill="url(#gS)"/>
<circle cx="1666.7" cy="313.1" r="2.2" fill="#1a1a1a"/>
<circle cx="1666.7" cy="319.9" r="3.3" fill="url(#gS)"/>
<circle cx="1675.7" cy="305.8" r="3.3" fill="url(#gS)"/>
<circle cx="1675.7" cy="313.1" r="2.2" fill="#1a1a1a"/>
<circle cx="1675.7" cy="319.9" r="3.3" fill="url(#gS)"/>
<circle cx="1684.7" cy="305.8" r="3.3" fill="url(#gS)"/>
<circle cx="1684.7" cy="313.1" r="2.2" fill="#1a1a1a"/>
<circle cx="1684.7" cy="319.9" r="3.3" fill="url(#gS)"/>
<circle cx="1693.8" cy="305.8" r="3.3" fill="url(#gS)"/>
<circle cx="1693.8" cy="313.1" r="2.2" fill="#1a1a1a"/>
<circle cx="1693.8" cy="319.9" r="3.3" fill="url(#gS)"/>
<circle cx="1702.8" cy="305.8" r="3.3" fill="url(#gS)"/>
<circle cx="1702.8" cy="313.1" r="2.2" fill="#1a1a1a"/>
<circle cx="1702.8" cy="319.9" r="3.3" fill="url(#gS)"/>
<circle cx="1600.9" cy="299.1" r="3.7" fill="url(#gMag)"/>
<circle cx="1610.3" cy="299.1" r="3.7" fill="url(#gBlu)"/>
<circle cx="1619.7" cy="299.1" r="3.7" fill="url(#gMag)"/>
<circle cx="1629.1" cy="299.1" r="3.7" fill="url(#gBlu)"/>
<circle cx="1638.5" cy="299.1" r="3.7" fill="url(#gMag)"/>
<circle cx="1647.9" cy="299.1" r="3.7" fill="url(#gBlu)"/>
<circle cx="1657.3" cy="299.1" r="3.7" fill="url(#gMag)"/>
<circle cx="1666.7" cy="299.1" r="3.7" fill="url(#gBlu)"/>
<circle cx="1676.1" cy="299.1" r="3.7" fill="url(#gMag)"/>
<circle cx="1685.5" cy="299.1" r="3.7" fill="url(#gBlu)"/>
<circle cx="1694.9" cy="299.1" r="3.7" fill="url(#gMag)"/>
<circle cx="1704.3" cy="299.1" r="3.7" fill="url(#gBlu)"/>
<g clip-path="url(#clipc)">
<rect x="1414.2" y="107" width="13" height="13" fill="#000"/>
<rect x="1486.4" y="103.1" width="13" height="13" fill="#000"/>
<rect x="1538.7" y="107" width="13" height="13" fill="#000"/>
<rect x="1589.5" y="103.1" width="13" height="13" fill="#000"/>
<rect x="1641.3" y="138.7" width="13" height="13" fill="#000"/>
<rect x="1671.2" y="153.2" width="13" height="13" fill="#000"/>
<rect x="1693" y="156" width="13" height="13" fill="#000"/>
<rect x="1709.5" y="161" width="13" height="13" fill="#000"/>
<rect x="1736.7" y="194.1" width="13" height="13" fill="#000"/>
<rect x="1745" y="194.1" width="13" height="13" fill="#000"/>
<rect x="1755.4" y="228.7" width="13" height="13" fill="#000"/>
<rect x="1761.8" y="237.2" width="13" height="13" fill="#000"/>
<rect x="1769.2" y="261.8" width="13" height="13" fill="#000"/>
<rect x="1775.6" y="279.9" width="13" height="13" fill="#000"/>
<rect x="1781" y="308.7" width="13" height="13" fill="#000"/>
<rect x="1787.4" y="333.2" width="13" height="13" fill="#000"/>
<rect x="1792.7" y="353.5" width="13" height="13" fill="#000"/>
<circle cx="1420.7" cy="83.7" r="7.3" fill="#ff0000"/>
<circle cx="1492.9" cy="83.7" r="7.3" fill="#ff0000"/>
<circle cx="1545.2" cy="89.6" r="7.3" fill="#ff0000"/>
<circle cx="1596" cy="89.6" r="7.3" fill="#ff0000"/>
<circle cx="1647.8" cy="115.9" r="7.3" fill="#ff0000"/>
<circle cx="1678.1" cy="142" r="7.3" fill="#ff0000"/>
<circle cx="1699.5" cy="167.6" r="7.3" fill="#ff0000"/>
<circle cx="1716.1" cy="172.5" r="7.3" fill="#ff0000"/>
<circle cx="1729.6" cy="192.5" r="7.3" fill="#ff0000"/>
<circle cx="1741.3" cy="215.9" r="7.3" fill="#ff0000"/>
<circle cx="1751.5" cy="233.9" r="7.3" fill="#ff0000"/>
<circle cx="1759.7" cy="259.7" r="7.3" fill="#ff0000"/>
<circle cx="1768.3" cy="287.5" r="7.3" fill="#ff0000"/>
<circle cx="1775.1" cy="314.1" r="7.3" fill="#ff0000"/>
<circle cx="1781.5" cy="338.2" r="7.3" fill="#ff0000"/>
<circle cx="1787.5" cy="360" r="7.3" fill="#ff0000"/>
<circle cx="1793.9" cy="385.6" r="7.3" fill="#ff0000"/>
<circle cx="1799.2" cy="385.6" r="7.3" fill="#ff0000"/>
<line x1="1731.1" y1="123.5" x2="1799" y2="365" stroke="#000" stroke-width="3"/>
<line x1="1720.4" y1="139.8" x2="1794.9" y2="392" stroke="#ff0000" stroke-width="3"/>
</g>
<rect x="1373" y="39.6" width="446.5" height="359" fill="none" stroke="#000" stroke-width="4"/>
<g stroke="#000" stroke-width="3"><line x1="1424.6" y1="398.6" x2="1424.6" y2="393.1"/><line x1="1454.8" y1="398.6" x2="1454.8" y2="393.1"/><line x1="1476.3" y1="398.6" x2="1476.3" y2="393.1"/><line x1="1492.9" y1="398.6" x2="1492.9" y2="393.1"/><line x1="1506.5" y1="398.6" x2="1506.5" y2="393.1"/><line x1="1517.9" y1="398.6" x2="1517.9" y2="393.1"/><line x1="1527.9" y1="398.6" x2="1527.9" y2="393.1"/><line x1="1536.7" y1="398.6" x2="1536.7" y2="393.1"/><line x1="1544.5" y1="398.6" x2="1544.5" y2="389.6"/><line x1="1596.1" y1="398.6" x2="1596.1" y2="393.1"/><line x1="1626.3" y1="398.6" x2="1626.3" y2="393.1"/><line x1="1647.8" y1="398.6" x2="1647.8" y2="393.1"/><line x1="1664.4" y1="398.6" x2="1664.4" y2="393.1"/><line x1="1678" y1="398.6" x2="1678" y2="393.1"/><line x1="1689.4" y1="398.6" x2="1689.4" y2="393.1"/><line x1="1699.4" y1="398.6" x2="1699.4" y2="393.1"/><line x1="1708.2" y1="398.6" x2="1708.2" y2="393.1"/><line x1="1716" y1="398.6" x2="1716" y2="389.6"/><line x1="1767.6" y1="398.6" x2="1767.6" y2="393.1"/><line x1="1797.8" y1="398.6" x2="1797.8" y2="393.1"/><line x1="1373" y1="348.8" x2="1382" y2="348.8"/><line x1="1373" y1="194.2" x2="1382" y2="194.2"/><line x1="1373" y1="103.8" x2="1382" y2="103.8"/></g>
<g font-family="'Liberation Sans', Arial, sans-serif" font-weight="bold" font-size="31.5" fill="#000">
<text x="1373" y="430.6" text-anchor="middle">1</text>
<text x="1544.5" y="430.6" text-anchor="middle">10</text>
<text x="1716" y="430.6" text-anchor="middle">100</text>
</g>
<g font-family="'Liberation Sans', Arial, sans-serif" font-weight="bold" font-size="31" fill="#000">
<text x="1365" y="357" text-anchor="end">100</text>
<text x="1365" y="202.4" text-anchor="end">200</text>
<text x="1365" y="112" text-anchor="end">300</text>
<text x="1365" y="47.8" text-anchor="end">400</text>
</g>
<text x="1596" y="469.5" text-anchor="middle" font-family="'Liberation Sans', Arial, sans-serif" font-weight="bold" font-size="30.8">Temperature (K)</text>
<text transform="translate(1289,243.6) rotate(-90) scale(1,1.09)" text-anchor="middle" font-family="'Liberation Sans', Arial, sans-serif" font-weight="bold" font-size="30">μ (cm<tspan font-size="19" dy="-13.5">2</tspan><tspan dy="13.5"> v</tspan><tspan font-size="19" dy="-13.5">-1</tspan><tspan dy="13.5"> s</tspan><tspan font-size="19" dy="-13.5">-1</tspan><tspan dy="13.5">)</tspan></text>
<rect x="1388.5" y="324.6" width="13" height="13" fill="#000"/>
<circle cx="1395" cy="361.2" r="7.3" fill="#ff0000"/>
<text x="1419" y="336.3" font-family="'Liberation Sans', Arial, sans-serif" font-weight="bold" font-size="23.5">Device 1</text>
<text x="1419" y="366.1" font-family="'Liberation Sans', Arial, sans-serif" font-weight="bold" font-size="23.5">Device 2</text>
<text x="1729.8" y="94.1" fill="#000" stroke="#000" stroke-width="0.6" font-family="'DejaVu Serif', serif" font-style="italic" font-size="19.5">γ</text>
<text x="1741.7" y="92.5" fill="#000" font-family="'Liberation Sans', Arial, sans-serif" font-weight="bold" font-size="24">=1.17</text>
<text x="1658.5" y="215.4" fill="#ff0000" stroke="#ff0000" stroke-width="0.6" font-family="'DejaVu Serif', serif" font-style="italic" font-size="19.5">γ</text>
<text x="1670.4" y="213.8" fill="#ff0000" font-family="'Liberation Sans', Arial, sans-serif" font-weight="bold" font-size="24">=1.21</text>
<text x="1244" y="37" font-family="'Liberation Serif', 'Times New Roman', serif" font-weight="bold" font-size="48.5" letter-spacing="1">(c)</text>
</g>
<g id="panel-d">
<clipPath id="clipd"><rect x="134.4" y="542.2" width="445.6" height="358.5"/></clipPath>
<rect x="337.3" y="846.6" width="177.5" height="22.4" fill="#656565"/>
<rect x="337.3" y="835.7" width="177.5" height="10.9" fill="#8d8bd2"/>
<rect x="337.3" y="818" width="17.7" height="17.7" fill="#efd600"/>
<rect x="500.2" y="818" width="14.6" height="17.7" fill="#efd600"/>
<line x1="356" y1="831" x2="415.4" y2="831" stroke="#222" stroke-width="1.2"/>
<circle cx="358.6" cy="831" r="2.7" fill="url(#gC)"/>
<circle cx="363.9" cy="831" r="2.7" fill="url(#gC)"/>
<circle cx="373.5" cy="831" r="2.7" fill="url(#gC)"/>
<circle cx="378.8" cy="831" r="2.7" fill="url(#gC)"/>
<circle cx="388.3" cy="831" r="2.7" fill="url(#gC)"/>
<circle cx="393.6" cy="831" r="2.7" fill="url(#gC)"/>
<circle cx="403.1" cy="831" r="2.7" fill="url(#gC)"/>
<circle cx="408.4" cy="831" r="2.7" fill="url(#gC)"/>
<line x1="440.4" y1="831" x2="499.2" y2="831" stroke="#222" stroke-width="1.2"/>
<circle cx="496.6" cy="831" r="2.7" fill="url(#gC)"/>
<circle cx="491.3" cy="831" r="2.7" fill="url(#gC)"/>
<circle cx="481.9" cy="831" r="2.7" fill="url(#gC)"/>
<circle cx="476.6" cy="831" r="2.7" fill="url(#gC)"/>
<circle cx="467.2" cy="831" r="2.7" fill="url(#gC)"/>
<circle cx="461.9" cy="831" r="2.7" fill="url(#gC)"/>
<circle cx="452.5" cy="831" r="2.7" fill="url(#gC)"/>
<circle cx="447.2" cy="831" r="2.7" fill="url(#gC)"/>
<g stroke="#9a9ab8" stroke-width="0.9"><line x1="381" y1="810.7" x2="381" y2="824.8"/><line x1="381" y1="818" x2="389.6" y2="810.7"/><line x1="381" y1="818" x2="389.6" y2="824.8"/><line x1="389.6" y1="810.7" x2="389.6" y2="824.8"/><line x1="389.6" y1="818" x2="398.1" y2="810.7"/><line x1="389.6" y1="818" x2="398.1" y2="824.8"/><line x1="398.1" y1="810.7" x2="398.1" y2="824.8"/><line x1="398.1" y1="818" x2="406.7" y2="810.7"/><line x1="398.1" y1="818" x2="406.7" y2="824.8"/><line x1="406.7" y1="810.7" x2="406.7" y2="824.8"/><line x1="406.7" y1="818" x2="415.3" y2="810.7"/><line x1="406.7" y1="818" x2="415.3" y2="824.8"/><line x1="415.3" y1="810.7" x2="415.3" y2="824.8"/><line x1="415.3" y1="818" x2="423.8" y2="810.7"/><line x1="415.3" y1="818" x2="423.8" y2="824.8"/><line x1="423.8" y1="810.7" x2="423.8" y2="824.8"/><line x1="423.8" y1="818" x2="432.4" y2="810.7"/><line x1="423.8" y1="818" x2="432.4" y2="824.8"/><line x1="432.4" y1="810.7" x2="432.4" y2="824.8"/><line x1="432.4" y1="818" x2="440.9" y2="810.7"/><line x1="432.4" y1="818" x2="440.9" y2="824.8"/><line x1="440.9" y1="810.7" x2="440.9" y2="824.8"/><line x1="440.9" y1="818" x2="449.5" y2="810.7"/><line x1="440.9" y1="818" x2="449.5" y2="824.8"/><line x1="449.5" y1="810.7" x2="449.5" y2="824.8"/><line x1="449.5" y1="818" x2="458.1" y2="810.7"/><line x1="449.5" y1="818" x2="458.1" y2="824.8"/><line x1="458.1" y1="810.7" x2="458.1" y2="824.8"/><line x1="458.1" y1="818" x2="466.6" y2="810.7"/><line x1="458.1" y1="818" x2="466.6" y2="824.8"/><line x1="466.6" y1="810.7" x2="466.6" y2="824.8"/><line x1="466.6" y1="818" x2="475.2" y2="810.7"/><line x1="466.6" y1="818" x2="475.2" y2="824.8"/><line x1="475.2" y1="810.7" x2="475.2" y2="824.8"/></g>
<circle cx="381" cy="810.7" r="3.3" fill="url(#gS)"/>
<circle cx="381" cy="818" r="2.2" fill="#1a1a1a"/>
<circle cx="381" cy="824.8" r="3.3" fill="url(#gS)"/>
<circle cx="389.6" cy="810.7" r="3.3" fill="url(#gS)"/>
<circle cx="389.6" cy="818" r="2.2" fill="#1a1a1a"/>
<circle cx="389.6" cy="824.8" r="3.3" fill="url(#gS)"/>
<circle cx="398.1" cy="810.7" r="3.3" fill="url(#gS)"/>
<circle cx="398.1" cy="818" r="2.2" fill="#1a1a1a"/>
<circle cx="398.1" cy="824.8" r="3.3" fill="url(#gS)"/>
<circle cx="406.7" cy="810.7" r="3.3" fill="url(#gS)"/>
<circle cx="406.7" cy="818" r="2.2" fill="#1a1a1a"/>
<circle cx="406.7" cy="824.8" r="3.3" fill="url(#gS)"/>
<circle cx="415.3" cy="810.7" r="3.3" fill="url(#gS)"/>
<circle cx="415.3" cy="818" r="2.2" fill="#1a1a1a"/>
<circle cx="415.3" cy="824.8" r="3.3" fill="url(#gS)"/>
<circle cx="423.8" cy="810.7" r="3.3" fill="url(#gS)"/>
<circle cx="423.8" cy="818" r="2.2" fill="#1a1a1a"/>
<circle cx="423.8" cy="826.4" r="3.3" fill="url(#gS)"/>
<circle cx="432.4" cy="810.7" r="3.3" fill="url(#gS)"/>
<circle cx="432.4" cy="818" r="2.2" fill="#1a1a1a"/>
<circle cx="432.4" cy="826.4" r="3.3" fill="url(#gS)"/>
<circle cx="440.9" cy="810.7" r="3.3" fill="url(#gS)"/>
<circle cx="440.9" cy="818" r="2.2" fill="#1a1a1a"/>
<circle cx="440.9" cy="824.8" r="3.3" fill="url(#gS)"/>
<circle cx="449.5" cy="810.7" r="3.3" fill="url(#gS)"/>
<circle cx="449.5" cy="818" r="2.2" fill="#1a1a1a"/>
<circle cx="449.5" cy="824.8" r="3.3" fill="url(#gS)"/>
<circle cx="458.1" cy="810.7" r="3.3" fill="url(#gS)"/>
<circle cx="458.1" cy="818" r="2.2" fill="#1a1a1a"/>
<circle cx="458.1" cy="824.8" r="3.3" fill="url(#gS)"/>
<circle cx="466.6" cy="810.7" r="3.3" fill="url(#gS)"/>
<circle cx="466.6" cy="818" r="2.2" fill="#1a1a1a"/>
<circle cx="466.6" cy="824.8" r="3.3" fill="url(#gS)"/>
<circle cx="475.2" cy="810.7" r="3.3" fill="url(#gS)"/>
<circle cx="475.2" cy="818" r="2.2" fill="#1a1a1a"/>
<circle cx="475.2" cy="824.8" r="3.3" fill="url(#gS)"/>
<g stroke="#9a9ab8" stroke-width="0.9"><line x1="381" y1="790.4" x2="381" y2="805"/><line x1="381" y1="797.7" x2="389.6" y2="790.4"/><line x1="381" y1="797.7" x2="389.6" y2="805"/><line x1="389.6" y1="790.4" x2="389.6" y2="805"/><line x1="389.6" y1="797.7" x2="398.1" y2="790.4"/><line x1="389.6" y1="797.7" x2="398.1" y2="805"/><line x1="398.1" y1="790.4" x2="398.1" y2="805"/><line x1="398.1" y1="797.7" x2="406.7" y2="790.4"/><line x1="398.1" y1="797.7" x2="406.7" y2="805"/><line x1="406.7" y1="790.4" x2="406.7" y2="805"/><line x1="406.7" y1="797.7" x2="415.3" y2="790.4"/><line x1="406.7" y1="797.7" x2="415.3" y2="805"/><line x1="415.3" y1="790.4" x2="415.3" y2="805"/><line x1="415.3" y1="797.7" x2="423.8" y2="790.4"/><line x1="415.3" y1="797.7" x2="423.8" y2="805"/><line x1="423.8" y1="790.4" x2="423.8" y2="805"/><line x1="423.8" y1="797.7" x2="432.4" y2="790.4"/><line x1="423.8" y1="797.7" x2="432.4" y2="805"/><line x1="432.4" y1="790.4" x2="432.4" y2="805"/><line x1="432.4" y1="797.7" x2="440.9" y2="790.4"/><line x1="432.4" y1="797.7" x2="440.9" y2="805"/><line x1="440.9" y1="790.4" x2="440.9" y2="805"/><line x1="440.9" y1="797.7" x2="449.5" y2="790.4"/><line x1="440.9" y1="797.7" x2="449.5" y2="805"/><line x1="449.5" y1="790.4" x2="449.5" y2="805"/><line x1="449.5" y1="797.7" x2="458.1" y2="790.4"/><line x1="449.5" y1="797.7" x2="458.1" y2="805"/><line x1="458.1" y1="790.4" x2="458.1" y2="805"/><line x1="458.1" y1="797.7" x2="466.6" y2="790.4"/><line x1="458.1" y1="797.7" x2="466.6" y2="805"/><line x1="466.6" y1="790.4" x2="466.6" y2="805"/><line x1="466.6" y1="797.7" x2="475.2" y2="790.4"/><line x1="466.6" y1="797.7" x2="475.2" y2="805"/><line x1="475.2" y1="790.4" x2="475.2" y2="805"/></g>
<circle cx="381" cy="790.4" r="3.3" fill="url(#gS)"/>
<circle cx="381" cy="797.7" r="2.2" fill="#1a1a1a"/>
<circle cx="381" cy="805" r="3.3" fill="url(#gS)"/>
<circle cx="389.6" cy="790.4" r="3.3" fill="url(#gS)"/>
<circle cx="389.6" cy="797.7" r="2.2" fill="#1a1a1a"/>
<circle cx="389.6" cy="805" r="3.3" fill="url(#gS)"/>
<circle cx="398.1" cy="790.4" r="3.3" fill="url(#gS)"/>
<circle cx="398.1" cy="797.7" r="2.2" fill="#1a1a1a"/>
<circle cx="398.1" cy="805" r="3.3" fill="url(#gS)"/>
<circle cx="406.7" cy="790.4" r="3.3" fill="url(#gS)"/>
<circle cx="406.7" cy="797.7" r="2.2" fill="#1a1a1a"/>
<circle cx="406.7" cy="805" r="3.3" fill="url(#gS)"/>
<circle cx="415.3" cy="790.4" r="3.3" fill="url(#gS)"/>
<circle cx="415.3" cy="797.7" r="2.2" fill="#1a1a1a"/>
<circle cx="415.3" cy="805" r="3.3" fill="url(#gS)"/>
<circle cx="423.8" cy="790.4" r="3.3" fill="url(#gS)"/>
<circle cx="423.8" cy="797.7" r="2.2" fill="#1a1a1a"/>
<circle cx="423.8" cy="805" r="3.3" fill="url(#gS)"/>
<circle cx="432.4" cy="790.4" r="3.3" fill="url(#gS)"/>
<circle cx="432.4" cy="797.7" r="2.2" fill="#1a1a1a"/>
<circle cx="432.4" cy="805" r="3.3" fill="url(#gS)"/>
<circle cx="440.9" cy="790.4" r="3.3" fill="url(#gS)"/>
<circle cx="440.9" cy="797.7" r="2.2" fill="#1a1a1a"/>
<circle cx="440.9" cy="805" r="3.3" fill="url(#gS)"/>
<circle cx="449.5" cy="790.4" r="3.3" fill="url(#gS)"/>
<circle cx="449.5" cy="797.7" r="2.2" fill="#1a1a1a"/>
<circle cx="449.5" cy="805" r="3.3" fill="url(#gS)"/>
<circle cx="458.1" cy="790.4" r="3.3" fill="url(#gS)"/>
<circle cx="458.1" cy="797.7" r="2.2" fill="#1a1a1a"/>
<circle cx="458.1" cy="805" r="3.3" fill="url(#gS)"/>
<circle cx="466.6" cy="790.4" r="3.3" fill="url(#gS)"/>
<circle cx="466.6" cy="797.7" r="2.2" fill="#1a1a1a"/>
<circle cx="466.6" cy="805" r="3.3" fill="url(#gS)"/>
<circle cx="475.2" cy="790.4" r="3.3" fill="url(#gS)"/>
<circle cx="475.2" cy="797.7" r="2.2" fill="#1a1a1a"/>
<circle cx="475.2" cy="805" r="3.3" fill="url(#gS)"/>
<g clip-path="url(#clipd)">
<rect x="175.8" y="618" width="13" height="13" fill="#000"/>
<rect x="247.5" y="610.5" width="13" height="13" fill="#000"/>
<rect x="299.3" y="617" width="13" height="13" fill="#000"/>
<rect x="350.6" y="620" width="13" height="13" fill="#000"/>
<rect x="401.9" y="615" width="13" height="13" fill="#000"/>
<rect x="431.7" y="596.1" width="13" height="13" fill="#000"/>
<rect x="455.3" y="578.5" width="13" height="13" fill="#000"/>
<rect x="470.9" y="567.9" width="13" height="13" fill="#000"/>
<rect x="483.7" y="573.5" width="13" height="13" fill="#000"/>
<rect x="495.6" y="591.3" width="13" height="13" fill="#000"/>
<rect x="505.7" y="611.4" width="13" height="13" fill="#000"/>
<rect x="514.8" y="642.5" width="13" height="13" fill="#000"/>
<rect x="523.5" y="683.3" width="13" height="13" fill="#000"/>
<rect x="528.4" y="730.8" width="13" height="13" fill="#000"/>
<rect x="534" y="767.4" width="13" height="13" fill="#000"/>
<rect x="540.6" y="807.2" width="13" height="13" fill="#000"/>
<rect x="547.2" y="844.2" width="13" height="13" fill="#000"/>
<rect x="552.8" y="879.1" width="13" height="13" fill="#000"/>
<circle cx="182.3" cy="714.1" r="7.3" fill="#ff0000"/>
<circle cx="254" cy="710.6" r="7.3" fill="#ff0000"/>
<circle cx="305.8" cy="707.1" r="7.3" fill="#ff0000"/>
<circle cx="357.1" cy="707.1" r="7.3" fill="#ff0000"/>
<circle cx="408.4" cy="694.2" r="7.3" fill="#ff0000"/>
<circle cx="438.2" cy="682.2" r="7.3" fill="#ff0000"/>
<circle cx="461.8" cy="675.6" r="7.3" fill="#ff0000"/>
<circle cx="476.5" cy="675.6" r="7.3" fill="#ff0000"/>
<circle cx="490.2" cy="669.2" r="7.3" fill="#ff0000"/>
<circle cx="502.1" cy="681" r="7.3" fill="#ff0000"/>
<circle cx="512.2" cy="674.6" r="7.3" fill="#ff0000"/>
<circle cx="519.5" cy="681" r="7.3" fill="#ff0000"/>
<circle cx="528.8" cy="699.5" r="7.3" fill="#ff0000"/>
<circle cx="535.6" cy="727.6" r="7.3" fill="#ff0000"/>
<circle cx="542.9" cy="751.2" r="7.3" fill="#ff0000"/>
<circle cx="548.8" cy="769" r="7.3" fill="#ff0000"/>
<circle cx="553.2" cy="787.3" r="7.3" fill="#ff0000"/>
<circle cx="558.5" cy="819" r="7.3" fill="#ff0000"/>
<line x1="502.5" y1="554.8" x2="561.7" y2="884.9" stroke="#000" stroke-width="3"/>
<line x1="508" y1="629.5" x2="560.3" y2="817.7" stroke="#ff0000" stroke-width="3"/>
</g>
<rect x="134.4" y="542.2" width="445.6" height="358.5" fill="none" stroke="#000" stroke-width="4"/>
<g stroke="#000" stroke-width="3"><line x1="186" y1="900.7" x2="186" y2="895.2"/><line x1="216.2" y1="900.7" x2="216.2" y2="895.2"/><line x1="237.7" y1="900.7" x2="237.7" y2="895.2"/><line x1="254.3" y1="900.7" x2="254.3" y2="895.2"/><line x1="267.9" y1="900.7" x2="267.9" y2="895.2"/><line x1="279.3" y1="900.7" x2="279.3" y2="895.2"/><line x1="289.3" y1="900.7" x2="289.3" y2="895.2"/><line x1="298.1" y1="900.7" x2="298.1" y2="895.2"/><line x1="305.9" y1="900.7" x2="305.9" y2="891.7"/><line x1="357.5" y1="900.7" x2="357.5" y2="895.2"/><line x1="387.7" y1="900.7" x2="387.7" y2="895.2"/><line x1="409.2" y1="900.7" x2="409.2" y2="895.2"/><line x1="425.8" y1="900.7" x2="425.8" y2="895.2"/><line x1="439.4" y1="900.7" x2="439.4" y2="895.2"/><line x1="450.8" y1="900.7" x2="450.8" y2="895.2"/><line x1="460.8" y1="900.7" x2="460.8" y2="895.2"/><line x1="469.6" y1="900.7" x2="469.6" y2="895.2"/><line x1="477.4" y1="900.7" x2="477.4" y2="891.7"/><line x1="529" y1="900.7" x2="529" y2="895.2"/><line x1="559.2" y1="900.7" x2="559.2" y2="895.2"/><line x1="134.4" y1="746.3" x2="143.4" y2="746.3"/><line x1="134.4" y1="656" x2="143.4" y2="656"/><line x1="134.4" y1="591.9" x2="143.4" y2="591.9"/></g>
<g font-family="'Liberation Sans', Arial, sans-serif" font-weight="bold" font-size="31.5" fill="#000">
<text x="134.4" y="932.7" text-anchor="middle">1</text>
<text x="305.9" y="932.7" text-anchor="middle">10</text>
<text x="477.4" y="932.7" text-anchor="middle">100</text>
</g>
<g font-family="'Liberation Sans', Arial, sans-serif" font-weight="bold" font-size="31" fill="#000">
<text x="126.4" y="908.9" text-anchor="end">50</text>
<text x="126.4" y="754.5" text-anchor="end">100</text>
<text x="126.4" y="664.2" text-anchor="end">150</text>
<text x="126.4" y="600.1" text-anchor="end">200</text>
<text x="126.4" y="550.4" text-anchor="end">250</text>
</g>
<text x="356.8" y="974.5" text-anchor="middle" font-family="'Liberation Sans', Arial, sans-serif" font-weight="bold" font-size="30.8">Temperature (K)</text>
<text transform="translate(50.4,745.2) rotate(-90) scale(1,1.09)" text-anchor="middle" font-family="'Liberation Sans', Arial, sans-serif" font-weight="bold" font-size="30">μ (cm<tspan font-size="19" dy="-13.5">2</tspan><tspan dy="13.5"> v</tspan><tspan font-size="19" dy="-13.5">-1</tspan><tspan dy="13.5"> s</tspan><tspan font-size="19" dy="-13.5">-1</tspan><tspan dy="13.5">)</tspan></text>
<rect x="146.6" y="829.5" width="13" height="13" fill="#000"/>
<circle cx="153.4" cy="865.9" r="7.3" fill="#ff0000"/>
<text x="177.6" y="841.7" font-family="'Liberation Sans', Arial, sans-serif" font-weight="bold" font-size="23.5">Device 1</text>
<text x="177.6" y="871.7" font-family="'Liberation Sans', Arial, sans-serif" font-weight="bold" font-size="23.5">Device 2</text>
<text x="502.5" y="571.9" fill="#000" stroke="#000" stroke-width="0.6" font-family="'DejaVu Serif', serif" font-style="italic" font-size="19.5">γ</text>
<text x="514.4" y="570.3" fill="#000" font-family="'Liberation Sans', Arial, sans-serif" font-weight="bold" font-size="24">=1.74</text>
<text x="431.9" y="653.4" fill="#ff0000" stroke="#ff0000" stroke-width="0.6" font-family="'DejaVu Serif', serif" font-style="italic" font-size="19.5">γ</text>
<text x="443.8" y="651.8" fill="#ff0000" font-family="'Liberation Sans', Arial, sans-serif" font-weight="bold" font-size="24">=1.26</text>
<text x="1" y="533.3" font-family="'Liberation Serif', 'Times New Roman', serif" font-weight="bold" font-size="48.5" letter-spacing="1">(d)</text>
</g>
<g id="panel-e">
<clipPath id="clipe"><rect x="763.4" y="542.3" width="445.6" height="358.7"/></clipPath>
<rect x="947.3" y="852.2" width="178" height="21.8" fill="#656565"/>
<rect x="947.3" y="840.4" width="178" height="11.8" fill="#8d8bd2"/>
<rect x="947.3" y="824.8" width="16.7" height="15.6" fill="#efd600"/>
<rect x="1108.3" y="824.8" width="17" height="15.6" fill="#efd600"/>
<line x1="965" y1="837.1" x2="1023.3" y2="837.1" stroke="#222" stroke-width="1.2"/>
<circle cx="967.6" cy="837.1" r="2.7" fill="url(#gC)"/>
<circle cx="972.9" cy="837.1" r="2.7" fill="url(#gC)"/>
<circle cx="982.2" cy="837.1" r="2.7" fill="url(#gC)"/>
<circle cx="987.5" cy="837.1" r="2.7" fill="url(#gC)"/>
<circle cx="996.8" cy="837.1" r="2.7" fill="url(#gC)"/>
<circle cx="1002" cy="837.1" r="2.7" fill="url(#gC)"/>
<circle cx="1011.3" cy="837.1" r="2.7" fill="url(#gC)"/>
<circle cx="1016.6" cy="837.1" r="2.7" fill="url(#gC)"/>
<line x1="1049.6" y1="837.1" x2="1107.3" y2="837.1" stroke="#222" stroke-width="1.2"/>
<circle cx="1104.7" cy="837.1" r="2.7" fill="url(#gC)"/>
<circle cx="1099.4" cy="837.1" r="2.7" fill="url(#gC)"/>
<circle cx="1090.3" cy="837.1" r="2.7" fill="url(#gC)"/>
<circle cx="1085" cy="837.1" r="2.7" fill="url(#gC)"/>
<circle cx="1075.8" cy="837.1" r="2.7" fill="url(#gC)"/>
<circle cx="1070.5" cy="837.1" r="2.7" fill="url(#gC)"/>
<circle cx="1061.4" cy="837.1" r="2.7" fill="url(#gC)"/>
<circle cx="1056.1" cy="837.1" r="2.7" fill="url(#gC)"/>
<g stroke="#9a9ab8" stroke-width="0.9"><line x1="989.2" y1="816.4" x2="989.2" y2="830.9"/><line x1="989.2" y1="824.8" x2="997.8" y2="816.4"/><line x1="989.2" y1="824.8" x2="997.8" y2="830.9"/><line x1="997.8" y1="816.4" x2="997.8" y2="830.9"/><line x1="997.8" y1="824.8" x2="1006.5" y2="816.4"/><line x1="997.8" y1="824.8" x2="1006.5" y2="830.9"/><line x1="1006.5" y1="816.4" x2="1006.5" y2="830.9"/><line x1="1006.5" y1="824.8" x2="1015.1" y2="816.4"/><line x1="1006.5" y1="824.8" x2="1015.1" y2="830.9"/><line x1="1015.1" y1="816.4" x2="1015.1" y2="830.9"/><line x1="1015.1" y1="824.8" x2="1023.7" y2="816.4"/><line x1="1015.1" y1="824.8" x2="1023.7" y2="830.9"/><line x1="1023.7" y1="816.4" x2="1023.7" y2="830.9"/><line x1="1023.7" y1="824.8" x2="1032.4" y2="816.4"/><line x1="1023.7" y1="824.8" x2="1032.4" y2="830.9"/><line x1="1032.4" y1="816.4" x2="1032.4" y2="830.9"/><line x1="1032.4" y1="824.8" x2="1041" y2="816.4"/><line x1="1032.4" y1="824.8" x2="1041" y2="830.9"/><line x1="1041" y1="816.4" x2="1041" y2="830.9"/><line x1="1041" y1="824.8" x2="1049.7" y2="816.4"/><line x1="1041" y1="824.8" x2="1049.7" y2="830.9"/><line x1="1049.7" y1="816.4" x2="1049.7" y2="830.9"/><line x1="1049.7" y1="824.8" x2="1058.3" y2="816.4"/><line x1="1049.7" y1="824.8" x2="1058.3" y2="830.9"/><line x1="1058.3" y1="816.4" x2="1058.3" y2="830.9"/><line x1="1058.3" y1="824.8" x2="1066.9" y2="816.4"/><line x1="1058.3" y1="824.8" x2="1066.9" y2="830.9"/><line x1="1066.9" y1="816.4" x2="1066.9" y2="830.9"/><line x1="1066.9" y1="824.8" x2="1075.6" y2="816.4"/><line x1="1066.9" y1="824.8" x2="1075.6" y2="830.9"/><line x1="1075.6" y1="816.4" x2="1075.6" y2="830.9"/><line x1="1075.6" y1="824.8" x2="1084.2" y2="816.4"/><line x1="1075.6" y1="824.8" x2="1084.2" y2="830.9"/><line x1="1084.2" y1="816.4" x2="1084.2" y2="830.9"/></g>
<circle cx="989.2" cy="816.4" r="3.3" fill="url(#gS)"/>
<circle cx="989.2" cy="824.8" r="2.2" fill="#1a1a1a"/>
<circle cx="989.2" cy="830.9" r="3.3" fill="url(#gS)"/>
<circle cx="997.8" cy="816.4" r="3.3" fill="url(#gS)"/>
<circle cx="997.8" cy="824.8" r="2.2" fill="#1a1a1a"/>
<circle cx="997.8" cy="830.9" r="3.3" fill="url(#gS)"/>
<circle cx="1006.5" cy="816.4" r="3.3" fill="url(#gS)"/>
<circle cx="1006.5" cy="824.8" r="2.2" fill="#1a1a1a"/>
<circle cx="1006.5" cy="830.9" r="3.3" fill="url(#gS)"/>
<circle cx="1015.1" cy="816.4" r="3.3" fill="url(#gS)"/>
<circle cx="1015.1" cy="824.8" r="2.2" fill="#1a1a1a"/>
<circle cx="1015.1" cy="830.9" r="3.3" fill="url(#gS)"/>
<circle cx="1023.7" cy="816.4" r="3.3" fill="url(#gS)"/>
<circle cx="1023.7" cy="824.8" r="2.2" fill="#1a1a1a"/>
<circle cx="1023.7" cy="830.9" r="3.3" fill="url(#gS)"/>
<circle cx="1032.4" cy="816.4" r="3.3" fill="url(#gS)"/>
<circle cx="1032.4" cy="824.8" r="2.2" fill="#1a1a1a"/>
<circle cx="1032.4" cy="832.5" r="3.3" fill="url(#gS)"/>
<circle cx="1041" cy="816.4" r="3.3" fill="url(#gS)"/>
<circle cx="1041" cy="824.8" r="2.2" fill="#1a1a1a"/>
<circle cx="1041" cy="832.5" r="3.3" fill="url(#gS)"/>
<circle cx="1049.7" cy="816.4" r="3.3" fill="url(#gS)"/>
<circle cx="1049.7" cy="824.8" r="2.2" fill="#1a1a1a"/>
<circle cx="1049.7" cy="830.9" r="3.3" fill="url(#gS)"/>
<circle cx="1058.3" cy="816.4" r="3.3" fill="url(#gS)"/>
<circle cx="1058.3" cy="824.8" r="2.2" fill="#1a1a1a"/>
<circle cx="1058.3" cy="830.9" r="3.3" fill="url(#gS)"/>
<circle cx="1066.9" cy="816.4" r="3.3" fill="url(#gS)"/>
<circle cx="1066.9" cy="824.8" r="2.2" fill="#1a1a1a"/>
<circle cx="1066.9" cy="830.9" r="3.3" fill="url(#gS)"/>
<circle cx="1075.6" cy="816.4" r="3.3" fill="url(#gS)"/>
<circle cx="1075.6" cy="824.8" r="2.2" fill="#1a1a1a"/>
<circle cx="1075.6" cy="830.9" r="3.3" fill="url(#gS)"/>
<circle cx="1084.2" cy="816.4" r="3.3" fill="url(#gS)"/>
<circle cx="1084.2" cy="824.8" r="2.2" fill="#1a1a1a"/>
<circle cx="1084.2" cy="830.9" r="3.3" fill="url(#gS)"/>
<g stroke="#9a9ab8" stroke-width="0.9"><line x1="989.2" y1="796.3" x2="989.2" y2="810.8"/><line x1="989.2" y1="803.5" x2="997.8" y2="796.3"/><line x1="989.2" y1="803.5" x2="997.8" y2="810.8"/><line x1="997.8" y1="796.3" x2="997.8" y2="810.8"/><line x1="997.8" y1="803.5" x2="1006.5" y2="796.3"/><line x1="997.8" y1="803.5" x2="1006.5" y2="810.8"/><line x1="1006.5" y1="796.3" x2="1006.5" y2="810.8"/><line x1="1006.5" y1="803.5" x2="1015.1" y2="796.3"/><line x1="1006.5" y1="803.5" x2="1015.1" y2="810.8"/><line x1="1015.1" y1="796.3" x2="1015.1" y2="810.8"/><line x1="1015.1" y1="803.5" x2="1023.7" y2="796.3"/><line x1="1015.1" y1="803.5" x2="1023.7" y2="810.8"/><line x1="1023.7" y1="796.3" x2="1023.7" y2="810.8"/><line x1="1023.7" y1="803.5" x2="1032.4" y2="796.3"/><line x1="1023.7" y1="803.5" x2="1032.4" y2="810.8"/><line x1="1032.4" y1="796.3" x2="1032.4" y2="810.8"/><line x1="1032.4" y1="803.5" x2="1041" y2="796.3"/><line x1="1032.4" y1="803.5" x2="1041" y2="810.8"/><line x1="1041" y1="796.3" x2="1041" y2="810.8"/><line x1="1041" y1="803.5" x2="1049.7" y2="796.3"/><line x1="1041" y1="803.5" x2="1049.7" y2="810.8"/><line x1="1049.7" y1="796.3" x2="1049.7" y2="810.8"/><line x1="1049.7" y1="803.5" x2="1058.3" y2="796.3"/><line x1="1049.7" y1="803.5" x2="1058.3" y2="810.8"/><line x1="1058.3" y1="796.3" x2="1058.3" y2="810.8"/><line x1="1058.3" y1="803.5" x2="1066.9" y2="796.3"/><line x1="1058.3" y1="803.5" x2="1066.9" y2="810.8"/><line x1="1066.9" y1="796.3" x2="1066.9" y2="810.8"/><line x1="1066.9" y1="803.5" x2="1075.6" y2="796.3"/><line x1="1066.9" y1="803.5" x2="1075.6" y2="810.8"/><line x1="1075.6" y1="796.3" x2="1075.6" y2="810.8"/><line x1="1075.6" y1="803.5" x2="1084.2" y2="796.3"/><line x1="1075.6" y1="803.5" x2="1084.2" y2="810.8"/><line x1="1084.2" y1="796.3" x2="1084.2" y2="810.8"/></g>
<circle cx="989.2" cy="796.3" r="3.3" fill="url(#gS)"/>
<circle cx="989.2" cy="803.5" r="2.2" fill="#1a1a1a"/>
<circle cx="989.2" cy="810.8" r="3.3" fill="url(#gS)"/>
<circle cx="997.8" cy="796.3" r="3.3" fill="url(#gS)"/>
<circle cx="997.8" cy="803.5" r="2.2" fill="#1a1a1a"/>
<circle cx="997.8" cy="810.8" r="3.3" fill="url(#gS)"/>
<circle cx="1006.5" cy="796.3" r="3.3" fill="url(#gS)"/>
<circle cx="1006.5" cy="803.5" r="2.2" fill="#1a1a1a"/>
<circle cx="1006.5" cy="810.8" r="3.3" fill="url(#gS)"/>
<circle cx="1015.1" cy="796.3" r="3.3" fill="url(#gS)"/>
<circle cx="1015.1" cy="803.5" r="2.2" fill="#1a1a1a"/>
<circle cx="1015.1" cy="810.8" r="3.3" fill="url(#gS)"/>
<circle cx="1023.7" cy="796.3" r="3.3" fill="url(#gS)"/>
<circle cx="1023.7" cy="803.5" r="2.2" fill="#1a1a1a"/>
<circle cx="1023.7" cy="810.8" r="3.3" fill="url(#gS)"/>
<circle cx="1032.4" cy="796.3" r="3.3" fill="url(#gS)"/>
<circle cx="1032.4" cy="803.5" r="2.2" fill="#1a1a1a"/>
<circle cx="1032.4" cy="810.8" r="3.3" fill="url(#gS)"/>
<circle cx="1041" cy="796.3" r="3.3" fill="url(#gS)"/>
<circle cx="1041" cy="803.5" r="2.2" fill="#1a1a1a"/>
<circle cx="1041" cy="810.8" r="3.3" fill="url(#gS)"/>
<circle cx="1049.7" cy="796.3" r="3.3" fill="url(#gS)"/>
<circle cx="1049.7" cy="803.5" r="2.2" fill="#1a1a1a"/>
<circle cx="1049.7" cy="810.8" r="3.3" fill="url(#gS)"/>
<circle cx="1058.3" cy="796.3" r="3.3" fill="url(#gS)"/>
<circle cx="1058.3" cy="803.5" r="2.2" fill="#1a1a1a"/>
<circle cx="1058.3" cy="810.8" r="3.3" fill="url(#gS)"/>
<circle cx="1066.9" cy="796.3" r="3.3" fill="url(#gS)"/>
<circle cx="1066.9" cy="803.5" r="2.2" fill="#1a1a1a"/>
<circle cx="1066.9" cy="810.8" r="3.3" fill="url(#gS)"/>
<circle cx="1075.6" cy="796.3" r="3.3" fill="url(#gS)"/>
<circle cx="1075.6" cy="803.5" r="2.2" fill="#1a1a1a"/>
<circle cx="1075.6" cy="810.8" r="3.3" fill="url(#gS)"/>
<circle cx="1084.2" cy="796.3" r="3.3" fill="url(#gS)"/>
<circle cx="1084.2" cy="803.5" r="2.2" fill="#1a1a1a"/>
<circle cx="1084.2" cy="810.8" r="3.3" fill="url(#gS)"/>
<circle cx="986.7" cy="789.6" r="3.7" fill="url(#gMag)"/>
<circle cx="995.7" cy="789.6" r="3.7" fill="url(#gBlu)"/>
<circle cx="1004.7" cy="789.6" r="3.7" fill="url(#gMag)"/>
<circle cx="1013.7" cy="789.6" r="3.7" fill="url(#gBlu)"/>
<circle cx="1022.7" cy="789.6" r="3.7" fill="url(#gMag)"/>
<circle cx="1031.7" cy="789.6" r="3.7" fill="url(#gBlu)"/>
<circle cx="1040.7" cy="789.6" r="3.7" fill="url(#gMag)"/>
<circle cx="1049.7" cy="789.6" r="3.7" fill="url(#gBlu)"/>
<circle cx="1058.7" cy="789.6" r="3.7" fill="url(#gMag)"/>
<circle cx="1067.7" cy="789.6" r="3.7" fill="url(#gBlu)"/>
<circle cx="1076.7" cy="789.6" r="3.7" fill="url(#gMag)"/>
<circle cx="1085.7" cy="789.6" r="3.7" fill="url(#gBlu)"/>
<g clip-path="url(#clipe)">
<rect x="808" y="702.6" width="13" height="13" fill="#000"/>
<rect x="927.7" y="706.6" width="13" height="13" fill="#000"/>
<rect x="980.5" y="700.1" width="13" height="13" fill="#000"/>
<rect x="1030.8" y="696.7" width="13" height="13" fill="#000"/>
<rect x="1061.2" y="670.2" width="13" height="13" fill="#000"/>
<rect x="1082.5" y="639.3" width="13" height="13" fill="#000"/>
<rect x="1099.5" y="618.1" width="13" height="13" fill="#000"/>
<rect x="1113.3" y="610.4" width="13" height="13" fill="#000"/>
<rect x="1124.5" y="623.9" width="13" height="13" fill="#000"/>
<rect x="1134.6" y="649.9" width="13" height="13" fill="#000"/>
<rect x="1143.3" y="684.7" width="13" height="13" fill="#000"/>
<rect x="1150.5" y="720.3" width="13" height="13" fill="#000"/>
<rect x="1157.2" y="755" width="13" height="13" fill="#000"/>
<rect x="1163.9" y="791.8" width="13" height="13" fill="#000"/>
<rect x="1169.9" y="832" width="13" height="13" fill="#000"/>
<rect x="1175.7" y="865.6" width="13" height="13" fill="#000"/>
<rect x="1180.7" y="887.9" width="13" height="13" fill="#000"/>
<circle cx="814.5" cy="673.3" r="7.3" fill="#ff0000"/>
<circle cx="934.2" cy="674.8" r="7.3" fill="#ff0000"/>
<circle cx="987" cy="667.3" r="7.3" fill="#ff0000"/>
<circle cx="1037.3" cy="647.4" r="7.3" fill="#ff0000"/>
<circle cx="1067.7" cy="629.4" r="7.3" fill="#ff0000"/>
<circle cx="1089" cy="607.2" r="7.3" fill="#ff0000"/>
<circle cx="1106" cy="592.7" r="7.3" fill="#ff0000"/>
<circle cx="1118.9" cy="582.5" r="7.3" fill="#ff0000"/>
<circle cx="1131" cy="591.4" r="7.3" fill="#ff0000"/>
<circle cx="1140.7" cy="608.2" r="7.3" fill="#ff0000"/>
<circle cx="1150.3" cy="639.5" r="7.3" fill="#ff0000"/>
<circle cx="1158.8" cy="671.9" r="7.3" fill="#ff0000"/>
<circle cx="1164.8" cy="715.6" r="7.3" fill="#ff0000"/>
<circle cx="1171.5" cy="750.3" r="7.3" fill="#ff0000"/>
<circle cx="1177.1" cy="797.2" r="7.3" fill="#ff0000"/>
<circle cx="1181.6" cy="834.1" r="7.3" fill="#ff0000"/>
<circle cx="1188.3" cy="877.7" r="7.3" fill="#ff0000"/>
<line x1="1138.2" y1="616.9" x2="1190.5" y2="841.9" stroke="#000" stroke-width="3"/>
<line x1="1142" y1="581.2" x2="1192.7" y2="887.7" stroke="#ff0000" stroke-width="3"/>
</g>
<rect x="763.4" y="542.3" width="445.6" height="358.7" fill="none" stroke="#000" stroke-width="4"/>
<g stroke="#000" stroke-width="3"><line x1="815" y1="901" x2="815" y2="895.5"/><line x1="845.2" y1="901" x2="845.2" y2="895.5"/><line x1="866.7" y1="901" x2="866.7" y2="895.5"/><line x1="883.3" y1="901" x2="883.3" y2="895.5"/><line x1="896.9" y1="901" x2="896.9" y2="895.5"/><line x1="908.3" y1="901" x2="908.3" y2="895.5"/><line x1="918.3" y1="901" x2="918.3" y2="895.5"/><line x1="927.1" y1="901" x2="927.1" y2="895.5"/><line x1="934.9" y1="901" x2="934.9" y2="892"/><line x1="986.5" y1="901" x2="986.5" y2="895.5"/><line x1="1016.7" y1="901" x2="1016.7" y2="895.5"/><line x1="1038.2" y1="901" x2="1038.2" y2="895.5"/><line x1="1054.8" y1="901" x2="1054.8" y2="895.5"/><line x1="1068.4" y1="901" x2="1068.4" y2="895.5"/><line x1="1079.8" y1="901" x2="1079.8" y2="895.5"/><line x1="1089.8" y1="901" x2="1089.8" y2="895.5"/><line x1="1098.6" y1="901" x2="1098.6" y2="895.5"/><line x1="1106.4" y1="901" x2="1106.4" y2="892"/><line x1="1158" y1="901" x2="1158" y2="895.5"/><line x1="1188.2" y1="901" x2="1188.2" y2="895.5"/><line x1="763.4" y1="746.5" x2="772.4" y2="746.5"/><line x1="763.4" y1="656.1" x2="772.4" y2="656.1"/><line x1="763.4" y1="592" x2="772.4" y2="592"/></g>
<g font-family="'Liberation Sans', Arial, sans-serif" font-weight="bold" font-size="31.5" fill="#000">
<text x="763.4" y="933" text-anchor="middle">1</text>
<text x="934.9" y="933" text-anchor="middle">10</text>
<text x="1106.4" y="933" text-anchor="middle">100</text>
</g>
<g font-family="'Liberation Sans', Arial, sans-serif" font-weight="bold" font-size="31" fill="#000">
<text x="755.4" y="909.2" text-anchor="end">70</text>
<text x="755.4" y="754.7" text-anchor="end">140</text>
<text x="755.4" y="664.3" text-anchor="end">210</text>
<text x="755.4" y="600.2" text-anchor="end">280</text>
<text x="755.4" y="550.5" text-anchor="end">350</text>
</g>
<text x="986" y="973.5" text-anchor="middle" font-family="'Liberation Sans', Arial, sans-serif" font-weight="bold" font-size="30.8">Temperature (K)</text>
<text transform="translate(679.4,745.2) rotate(-90) scale(1,1.09)" text-anchor="middle" font-family="'Liberation Sans', Arial, sans-serif" font-weight="bold" font-size="30">μ (cm<tspan font-size="19" dy="-13.5">2</tspan><tspan dy="13.5"> v</tspan><tspan font-size="19" dy="-13.5">-1</tspan><tspan dy="13.5"> s</tspan><tspan font-size="19" dy="-13.5">-1</tspan><tspan dy="13.5">)</tspan></text>
<rect x="781.2" y="822.4" width="13" height="13" fill="#000"/>
<circle cx="787.7" cy="859" r="7.3" fill="#ff0000"/>
<text x="812.6" y="834.2" font-family="'Liberation Sans', Arial, sans-serif" font-weight="bold" font-size="23.5">Device 1</text>
<text x="812.6" y="864.2" font-family="'Liberation Sans', Arial, sans-serif" font-weight="bold" font-size="23.5">Device 2</text>
<text x="1126.2" y="571.2" fill="#ff0000" stroke="#ff0000" stroke-width="0.6" font-family="'DejaVu Serif', serif" font-style="italic" font-size="19.5">γ</text>
<text x="1138.1" y="569.6" fill="#ff0000" font-family="'Liberation Sans', Arial, sans-serif" font-weight="bold" font-size="24">=2.12</text>
<text x="1063.4" y="713.1" fill="#000" stroke="#000" stroke-width="0.6" font-family="'DejaVu Serif', serif" font-style="italic" font-size="19.5">γ</text>
<text x="1075.3" y="711.5" fill="#000" font-family="'Liberation Sans', Arial, sans-serif" font-weight="bold" font-size="24">=1.92</text>
<text x="630.5" y="533.3" font-family="'Liberation Serif', 'Times New Roman', serif" font-weight="bold" font-size="48.5" letter-spacing="1">(e)</text>
</g>
<g id="panel-f">
<clipPath id="clipf"><rect x="1373.2" y="541.8" width="445.3" height="359.2"/></clipPath>
<rect x="1557" y="852.6" width="181.1" height="22.8" fill="#656565"/>
<rect x="1557" y="839.7" width="181.1" height="12.9" fill="#8d8bd2"/>
<rect x="1557" y="821.1" width="18.7" height="18.6" fill="#efd600"/>
<rect x="1720.6" y="821.1" width="17.5" height="18.6" fill="#efd600"/>
<line x1="1579.8" y1="835.1" x2="1715.9" y2="835.1" stroke="#b070b0" stroke-width="1"/>
<circle cx="1579.8" cy="835.1" r="3.8" fill="url(#gMag)"/>
<circle cx="1588.9" cy="835.1" r="3.8" fill="url(#gBlu)"/>
<circle cx="1597.9" cy="835.1" r="3.8" fill="url(#gMag)"/>
<circle cx="1607" cy="835.1" r="3.8" fill="url(#gBlu)"/>
<circle cx="1616.1" cy="835.1" r="3.8" fill="url(#gMag)"/>
<circle cx="1625.2" cy="835.1" r="3.8" fill="url(#gBlu)"/>
<circle cx="1634.2" cy="835.1" r="3.8" fill="url(#gMag)"/>
<circle cx="1643.3" cy="835.1" r="3.8" fill="url(#gBlu)"/>
<circle cx="1652.4" cy="835.1" r="3.8" fill="url(#gMag)"/>
<circle cx="1661.5" cy="835.1" r="3.8" fill="url(#gBlu)"/>
<circle cx="1670.5" cy="835.1" r="3.8" fill="url(#gMag)"/>
<circle cx="1679.6" cy="835.1" r="3.8" fill="url(#gBlu)"/>
<circle cx="1688.7" cy="835.1" r="3.8" fill="url(#gMag)"/>
<circle cx="1697.8" cy="835.1" r="3.8" fill="url(#gBlu)"/>
<circle cx="1706.8" cy="835.1" r="3.8" fill="url(#gMag)"/>
<circle cx="1715.9" cy="835.1" r="3.8" fill="url(#gBlu)"/>
<line x1="1576.7" y1="828.7" x2="1635.3" y2="828.7" stroke="#222" stroke-width="1.2"/>
<circle cx="1579.3" cy="828.7" r="2.7" fill="url(#gC)"/>
<circle cx="1584.6" cy="828.7" r="2.7" fill="url(#gC)"/>
<circle cx="1593.9" cy="828.7" r="2.7" fill="url(#gC)"/>
<circle cx="1599.2" cy="828.7" r="2.7" fill="url(#gC)"/>
<circle cx="1608.6" cy="828.7" r="2.7" fill="url(#gC)"/>
<circle cx="1613.9" cy="828.7" r="2.7" fill="url(#gC)"/>
<circle cx="1623.2" cy="828.7" r="2.7" fill="url(#gC)"/>
<circle cx="1628.6" cy="828.7" r="2.7" fill="url(#gC)"/>
<line x1="1661" y1="828.7" x2="1719.6" y2="828.7" stroke="#222" stroke-width="1.2"/>
<circle cx="1717" cy="828.7" r="2.7" fill="url(#gC)"/>
<circle cx="1711.7" cy="828.7" r="2.7" fill="url(#gC)"/>
<circle cx="1702.3" cy="828.7" r="2.7" fill="url(#gC)"/>
<circle cx="1697" cy="828.7" r="2.7" fill="url(#gC)"/>
<circle cx="1687.7" cy="828.7" r="2.7" fill="url(#gC)"/>
<circle cx="1682.4" cy="828.7" r="2.7" fill="url(#gC)"/>
<circle cx="1673.1" cy="828.7" r="2.7" fill="url(#gC)"/>
<circle cx="1667.8" cy="828.7" r="2.7" fill="url(#gC)"/>
<g stroke="#9a9ab8" stroke-width="0.9"><line x1="1601.4" y1="808.2" x2="1601.4" y2="822.8"/><line x1="1601.4" y1="815.8" x2="1610" y2="808.2"/><line x1="1601.4" y1="815.8" x2="1610" y2="822.8"/><line x1="1610" y1="808.2" x2="1610" y2="822.8"/><line x1="1610" y1="815.8" x2="1618.5" y2="808.2"/><line x1="1610" y1="815.8" x2="1618.5" y2="822.8"/><line x1="1618.5" y1="808.2" x2="1618.5" y2="822.8"/><line x1="1618.5" y1="815.8" x2="1627.1" y2="808.2"/><line x1="1618.5" y1="815.8" x2="1627.1" y2="822.8"/><line x1="1627.1" y1="808.2" x2="1627.1" y2="822.8"/><line x1="1627.1" y1="815.8" x2="1635.6" y2="808.2"/><line x1="1627.1" y1="815.8" x2="1635.6" y2="822.8"/><line x1="1635.6" y1="808.2" x2="1635.6" y2="822.8"/><line x1="1635.6" y1="815.8" x2="1644.2" y2="808.2"/><line x1="1635.6" y1="815.8" x2="1644.2" y2="822.8"/><line x1="1644.2" y1="808.2" x2="1644.2" y2="822.8"/><line x1="1644.2" y1="815.8" x2="1652.7" y2="808.2"/><line x1="1644.2" y1="815.8" x2="1652.7" y2="822.8"/><line x1="1652.7" y1="808.2" x2="1652.7" y2="822.8"/><line x1="1652.7" y1="815.8" x2="1661.3" y2="808.2"/><line x1="1652.7" y1="815.8" x2="1661.3" y2="822.8"/><line x1="1661.3" y1="808.2" x2="1661.3" y2="822.8"/><line x1="1661.3" y1="815.8" x2="1669.8" y2="808.2"/><line x1="1661.3" y1="815.8" x2="1669.8" y2="822.8"/><line x1="1669.8" y1="808.2" x2="1669.8" y2="822.8"/><line x1="1669.8" y1="815.8" x2="1678.4" y2="808.2"/><line x1="1669.8" y1="815.8" x2="1678.4" y2="822.8"/><line x1="1678.4" y1="808.2" x2="1678.4" y2="822.8"/><line x1="1678.4" y1="815.8" x2="1686.9" y2="808.2"/><line x1="1678.4" y1="815.8" x2="1686.9" y2="822.8"/><line x1="1686.9" y1="808.2" x2="1686.9" y2="822.8"/><line x1="1686.9" y1="815.8" x2="1695.5" y2="808.2"/><line x1="1686.9" y1="815.8" x2="1695.5" y2="822.8"/><line x1="1695.5" y1="808.2" x2="1695.5" y2="822.8"/></g>
<circle cx="1601.4" cy="808.2" r="3.3" fill="url(#gS)"/>
<circle cx="1601.4" cy="815.8" r="2.2" fill="#1a1a1a"/>
<circle cx="1601.4" cy="822.8" r="3.3" fill="url(#gS)"/>
<circle cx="1610" cy="808.2" r="3.3" fill="url(#gS)"/>
<circle cx="1610" cy="815.8" r="2.2" fill="#1a1a1a"/>
<circle cx="1610" cy="822.8" r="3.3" fill="url(#gS)"/>
<circle cx="1618.5" cy="808.2" r="3.3" fill="url(#gS)"/>
<circle cx="1618.5" cy="815.8" r="2.2" fill="#1a1a1a"/>
<circle cx="1618.5" cy="822.8" r="3.3" fill="url(#gS)"/>
<circle cx="1627.1" cy="808.2" r="3.3" fill="url(#gS)"/>
<circle cx="1627.1" cy="815.8" r="2.2" fill="#1a1a1a"/>
<circle cx="1627.1" cy="822.8" r="3.3" fill="url(#gS)"/>
<circle cx="1635.6" cy="808.2" r="3.3" fill="url(#gS)"/>
<circle cx="1635.6" cy="815.8" r="2.2" fill="#1a1a1a"/>
<circle cx="1635.6" cy="822.8" r="3.3" fill="url(#gS)"/>
<circle cx="1644.2" cy="808.2" r="3.3" fill="url(#gS)"/>
<circle cx="1644.2" cy="815.8" r="2.2" fill="#1a1a1a"/>
<circle cx="1644.2" cy="824.4" r="3.3" fill="url(#gS)"/>
<circle cx="1652.7" cy="808.2" r="3.3" fill="url(#gS)"/>
<circle cx="1652.7" cy="815.8" r="2.2" fill="#1a1a1a"/>
<circle cx="1652.7" cy="824.4" r="3.3" fill="url(#gS)"/>
<circle cx="1661.3" cy="808.2" r="3.3" fill="url(#gS)"/>
<circle cx="1661.3" cy="815.8" r="2.2" fill="#1a1a1a"/>
<circle cx="1661.3" cy="822.8" r="3.3" fill="url(#gS)"/>
<circle cx="1669.8" cy="808.2" r="3.3" fill="url(#gS)"/>
<circle cx="1669.8" cy="815.8" r="2.2" fill="#1a1a1a"/>
<circle cx="1669.8" cy="822.8" r="3.3" fill="url(#gS)"/>
<circle cx="1678.4" cy="808.2" r="3.3" fill="url(#gS)"/>
<circle cx="1678.4" cy="815.8" r="2.2" fill="#1a1a1a"/>
<circle cx="1678.4" cy="822.8" r="3.3" fill="url(#gS)"/>
<circle cx="1686.9" cy="808.2" r="3.3" fill="url(#gS)"/>
<circle cx="1686.9" cy="815.8" r="2.2" fill="#1a1a1a"/>
<circle cx="1686.9" cy="822.8" r="3.3" fill="url(#gS)"/>
<circle cx="1695.5" cy="808.2" r="3.3" fill="url(#gS)"/>
<circle cx="1695.5" cy="815.8" r="2.2" fill="#1a1a1a"/>
<circle cx="1695.5" cy="822.8" r="3.3" fill="url(#gS)"/>
<g stroke="#9a9ab8" stroke-width="0.9"><line x1="1601.4" y1="787.8" x2="1601.4" y2="802.4"/><line x1="1601.4" y1="794.8" x2="1610" y2="787.8"/><line x1="1601.4" y1="794.8" x2="1610" y2="802.4"/><line x1="1610" y1="787.8" x2="1610" y2="802.4"/><line x1="1610" y1="794.8" x2="1618.5" y2="787.8"/><line x1="1610" y1="794.8" x2="1618.5" y2="802.4"/><line x1="1618.5" y1="787.8" x2="1618.5" y2="802.4"/><line x1="1618.5" y1="794.8" x2="1627.1" y2="787.8"/><line x1="1618.5" y1="794.8" x2="1627.1" y2="802.4"/><line x1="1627.1" y1="787.8" x2="1627.1" y2="802.4"/><line x1="1627.1" y1="794.8" x2="1635.6" y2="787.8"/><line x1="1627.1" y1="794.8" x2="1635.6" y2="802.4"/><line x1="1635.6" y1="787.8" x2="1635.6" y2="802.4"/><line x1="1635.6" y1="794.8" x2="1644.2" y2="787.8"/><line x1="1635.6" y1="794.8" x2="1644.2" y2="802.4"/><line x1="1644.2" y1="787.8" x2="1644.2" y2="802.4"/><line x1="1644.2" y1="794.8" x2="1652.7" y2="787.8"/><line x1="1644.2" y1="794.8" x2="1652.7" y2="802.4"/><line x1="1652.7" y1="787.8" x2="1652.7" y2="802.4"/><line x1="1652.7" y1="794.8" x2="1661.3" y2="787.8"/><line x1="1652.7" y1="794.8" x2="1661.3" y2="802.4"/><line x1="1661.3" y1="787.8" x2="1661.3" y2="802.4"/><line x1="1661.3" y1="794.8" x2="1669.8" y2="787.8"/><line x1="1661.3" y1="794.8" x2="1669.8" y2="802.4"/><line x1="1669.8" y1="787.8" x2="1669.8" y2="802.4"/><line x1="1669.8" y1="794.8" x2="1678.4" y2="787.8"/><line x1="1669.8" y1="794.8" x2="1678.4" y2="802.4"/><line x1="1678.4" y1="787.8" x2="1678.4" y2="802.4"/><line x1="1678.4" y1="794.8" x2="1686.9" y2="787.8"/><line x1="1678.4" y1="794.8" x2="1686.9" y2="802.4"/><line x1="1686.9" y1="787.8" x2="1686.9" y2="802.4"/><line x1="1686.9" y1="794.8" x2="1695.5" y2="787.8"/><line x1="1686.9" y1="794.8" x2="1695.5" y2="802.4"/><line x1="1695.5" y1="787.8" x2="1695.5" y2="802.4"/></g>
<circle cx="1601.4" cy="787.8" r="3.3" fill="url(#gS)"/>
<circle cx="1601.4" cy="794.8" r="2.2" fill="#1a1a1a"/>
<circle cx="1601.4" cy="802.4" r="3.3" fill="url(#gS)"/>
<circle cx="1610" cy="787.8" r="3.3" fill="url(#gS)"/>
<circle cx="1610" cy="794.8" r="2.2" fill="#1a1a1a"/>
<circle cx="1610" cy="802.4" r="3.3" fill="url(#gS)"/>
<circle cx="1618.5" cy="787.8" r="3.3" fill="url(#gS)"/>
<circle cx="1618.5" cy="794.8" r="2.2" fill="#1a1a1a"/>
<circle cx="1618.5" cy="802.4" r="3.3" fill="url(#gS)"/>
<circle cx="1627.1" cy="787.8" r="3.3" fill="url(#gS)"/>
<circle cx="1627.1" cy="794.8" r="2.2" fill="#1a1a1a"/>
<circle cx="1627.1" cy="802.4" r="3.3" fill="url(#gS)"/>
<circle cx="1635.6" cy="787.8" r="3.3" fill="url(#gS)"/>
<circle cx="1635.6" cy="794.8" r="2.2" fill="#1a1a1a"/>
<circle cx="1635.6" cy="802.4" r="3.3" fill="url(#gS)"/>
<circle cx="1644.2" cy="787.8" r="3.3" fill="url(#gS)"/>
<circle cx="1644.2" cy="794.8" r="2.2" fill="#1a1a1a"/>
<circle cx="1644.2" cy="802.4" r="3.3" fill="url(#gS)"/>
<circle cx="1652.7" cy="787.8" r="3.3" fill="url(#gS)"/>
<circle cx="1652.7" cy="794.8" r="2.2" fill="#1a1a1a"/>
<circle cx="1652.7" cy="802.4" r="3.3" fill="url(#gS)"/>
<circle cx="1661.3" cy="787.8" r="3.3" fill="url(#gS)"/>
<circle cx="1661.3" cy="794.8" r="2.2" fill="#1a1a1a"/>
<circle cx="1661.3" cy="802.4" r="3.3" fill="url(#gS)"/>
<circle cx="1669.8" cy="787.8" r="3.3" fill="url(#gS)"/>
<circle cx="1669.8" cy="794.8" r="2.2" fill="#1a1a1a"/>
<circle cx="1669.8" cy="802.4" r="3.3" fill="url(#gS)"/>
<circle cx="1678.4" cy="787.8" r="3.3" fill="url(#gS)"/>
<circle cx="1678.4" cy="794.8" r="2.2" fill="#1a1a1a"/>
<circle cx="1678.4" cy="802.4" r="3.3" fill="url(#gS)"/>
<circle cx="1686.9" cy="787.8" r="3.3" fill="url(#gS)"/>
<circle cx="1686.9" cy="794.8" r="2.2" fill="#1a1a1a"/>
<circle cx="1686.9" cy="802.4" r="3.3" fill="url(#gS)"/>
<circle cx="1695.5" cy="787.8" r="3.3" fill="url(#gS)"/>
<circle cx="1695.5" cy="794.8" r="2.2" fill="#1a1a1a"/>
<circle cx="1695.5" cy="802.4" r="3.3" fill="url(#gS)"/>
<circle cx="1598.9" cy="780.2" r="3.7" fill="url(#gMag)"/>
<circle cx="1607.8" cy="780.2" r="3.7" fill="url(#gBlu)"/>
<circle cx="1616.7" cy="780.2" r="3.7" fill="url(#gMag)"/>
<circle cx="1625.7" cy="780.2" r="3.7" fill="url(#gBlu)"/>
<circle cx="1634.6" cy="780.2" r="3.7" fill="url(#gMag)"/>
<circle cx="1643.5" cy="780.2" r="3.7" fill="url(#gBlu)"/>
<circle cx="1652.4" cy="780.2" r="3.7" fill="url(#gMag)"/>
<circle cx="1661.3" cy="780.2" r="3.7" fill="url(#gBlu)"/>
<circle cx="1670.2" cy="780.2" r="3.7" fill="url(#gMag)"/>
<circle cx="1679.2" cy="780.2" r="3.7" fill="url(#gBlu)"/>
<circle cx="1688.1" cy="780.2" r="3.7" fill="url(#gMag)"/>
<circle cx="1697" cy="780.2" r="3.7" fill="url(#gBlu)"/>
<g clip-path="url(#clipf)">
<rect x="1414.2" y="613" width="13" height="13" fill="#000"/>
<rect x="1486.4" y="612" width="13" height="13" fill="#000"/>
<rect x="1538.7" y="615" width="13" height="13" fill="#000"/>
<rect x="1589.5" y="618" width="13" height="13" fill="#000"/>
<rect x="1641.5" y="622.9" width="13" height="13" fill="#000"/>
<rect x="1671.4" y="626.8" width="13" height="13" fill="#000"/>
<rect x="1692.7" y="647.6" width="13" height="13" fill="#000"/>
<rect x="1709.6" y="658.1" width="13" height="13" fill="#000"/>
<rect x="1723.5" y="677.4" width="13" height="13" fill="#000"/>
<rect x="1734.5" y="699.2" width="13" height="13" fill="#000"/>
<rect x="1744.3" y="714.4" width="13" height="13" fill="#000"/>
<rect x="1752.8" y="730.4" width="13" height="13" fill="#000"/>
<rect x="1760.6" y="749.4" width="13" height="13" fill="#000"/>
<rect x="1768" y="769.5" width="13" height="13" fill="#000"/>
<rect x="1774.7" y="786.3" width="13" height="13" fill="#000"/>
<rect x="1780.7" y="803" width="13" height="13" fill="#000"/>
<rect x="1786.3" y="822" width="13" height="13" fill="#000"/>
<rect x="1791.9" y="833.2" width="13" height="13" fill="#000"/>
<circle cx="1420.7" cy="574.7" r="7.3" fill="#ff0000"/>
<circle cx="1492.9" cy="579.7" r="7.3" fill="#ff0000"/>
<circle cx="1545.2" cy="581.2" r="7.3" fill="#ff0000"/>
<circle cx="1596" cy="578.7" r="7.3" fill="#ff0000"/>
<circle cx="1648" cy="601.8" r="7.3" fill="#ff0000"/>
<circle cx="1677.5" cy="639.1" r="7.3" fill="#ff0000"/>
<circle cx="1699.2" cy="687.3" r="7.3" fill="#ff0000"/>
<circle cx="1715.7" cy="730.2" r="7.3" fill="#ff0000"/>
<clipPath id="cutf8"><rect x="1700" y="740" width="60" height="27.9"/></clipPath>
<circle cx="1730.1" cy="765.3" r="7.3" fill="#ff0000" clip-path="url(#cutf8)"/>
<clipPath id="cutf9"><rect x="1738.2" y="770" width="21.8" height="30"/></clipPath>
<circle cx="1741" cy="784.5" r="7.3" fill="#ff0000" clip-path="url(#cutf9)"/>
<circle cx="1750.3" cy="805" r="7.3" fill="#ff0000"/>
<circle cx="1759.3" cy="818.5" r="7.3" fill="#ff0000"/>
<circle cx="1768.2" cy="821.8" r="7.3" fill="#ff0000"/>
<circle cx="1774.9" cy="844.2" r="7.3" fill="#ff0000"/>
<circle cx="1781.6" cy="875.5" r="7.3" fill="#ff0000"/>
<circle cx="1788.3" cy="900" r="7.3" fill="#ff0000"/>
<circle cx="1798.4" cy="882.2" r="7.3" fill="#ff0000"/>
<line x1="1691.4" y1="541.8" x2="1794" y2="830" stroke="#000" stroke-width="3"/>
<line x1="1649" y1="554.1" x2="1792.8" y2="896.7" stroke="#ff0000" stroke-width="3"/>
</g>
<rect x="1373.2" y="541.8" width="445.3" height="359.2" fill="none" stroke="#000" stroke-width="4"/>
<g stroke="#000" stroke-width="3"><line x1="1424.8" y1="901" x2="1424.8" y2="895.5"/><line x1="1455" y1="901" x2="1455" y2="895.5"/><line x1="1476.5" y1="901" x2="1476.5" y2="895.5"/><line x1="1493.1" y1="901" x2="1493.1" y2="895.5"/><line x1="1506.7" y1="901" x2="1506.7" y2="895.5"/><line x1="1518.1" y1="901" x2="1518.1" y2="895.5"/><line x1="1528.1" y1="901" x2="1528.1" y2="895.5"/><line x1="1536.9" y1="901" x2="1536.9" y2="895.5"/><line x1="1544.7" y1="901" x2="1544.7" y2="892"/><line x1="1596.3" y1="901" x2="1596.3" y2="895.5"/><line x1="1626.5" y1="901" x2="1626.5" y2="895.5"/><line x1="1648" y1="901" x2="1648" y2="895.5"/><line x1="1664.6" y1="901" x2="1664.6" y2="895.5"/><line x1="1678.2" y1="901" x2="1678.2" y2="895.5"/><line x1="1689.6" y1="901" x2="1689.6" y2="895.5"/><line x1="1699.6" y1="901" x2="1699.6" y2="895.5"/><line x1="1708.4" y1="901" x2="1708.4" y2="895.5"/><line x1="1716.2" y1="901" x2="1716.2" y2="892"/><line x1="1767.8" y1="901" x2="1767.8" y2="895.5"/><line x1="1798" y1="901" x2="1798" y2="895.5"/><line x1="1373.2" y1="802.9" x2="1382.2" y2="802.9"/><line x1="1373.2" y1="694.8" x2="1382.2" y2="694.8"/><line x1="1373.2" y1="631.6" x2="1382.2" y2="631.6"/><line x1="1373.2" y1="586.7" x2="1382.2" y2="586.7"/><line x1="1373.2" y1="551.9" x2="1382.2" y2="551.9"/></g>
<g font-family="'Liberation Sans', Arial, sans-serif" font-weight="bold" font-size="31.5" fill="#000">
<text x="1373.2" y="933" text-anchor="middle">1</text>
<text x="1544.7" y="933" text-anchor="middle">10</text>
<text x="1716.2" y="933" text-anchor="middle">100</text>
</g>
<g font-family="'Liberation Sans', Arial, sans-serif" font-weight="bold" font-size="31" fill="#000">
<text x="1365.2" y="811.1" text-anchor="end">150</text>
<text x="1365.2" y="703" text-anchor="end">300</text>
<text x="1365.2" y="639.8" text-anchor="end">450</text>
<text x="1365.2" y="594.9" text-anchor="end">600</text>
<text x="1365.2" y="560.1" text-anchor="end">750</text>
</g>
<text x="1596" y="973.5" text-anchor="middle" font-family="'Liberation Sans', Arial, sans-serif" font-weight="bold" font-size="30.8">Temperature (K)</text>
<text transform="translate(1289.2,745.2) rotate(-90) scale(1,1.09)" text-anchor="middle" font-family="'Liberation Sans', Arial, sans-serif" font-weight="bold" font-size="30">μ (cm<tspan font-size="19" dy="-13.5">2</tspan><tspan dy="13.5"> v</tspan><tspan font-size="19" dy="-13.5">-1</tspan><tspan dy="13.5"> s</tspan><tspan font-size="19" dy="-13.5">-1</tspan><tspan dy="13.5">)</tspan></text>
<rect x="1392" y="823" width="13" height="13" fill="#000"/>
<circle cx="1398.7" cy="859.4" r="7.3" fill="#ff0000"/>
<text x="1423" y="834.6" font-family="'Liberation Sans', Arial, sans-serif" font-weight="bold" font-size="23.5">Device 1</text>
<text x="1423" y="864.6" font-family="'Liberation Sans', Arial, sans-serif" font-weight="bold" font-size="23.5">Device 2</text>
<text x="1713.2" y="568.3" fill="#000" stroke="#000" stroke-width="0.6" font-family="'DejaVu Serif', serif" font-style="italic" font-size="19.5">γ</text>
<text x="1725.1" y="566.7" fill="#000" font-family="'Liberation Sans', Arial, sans-serif" font-weight="bold" font-size="24">=1.35</text>
<text x="1587.1" y="566.3" fill="#ff0000" stroke="#ff0000" stroke-width="0.6" font-family="'DejaVu Serif', serif" font-style="italic" font-size="19.5">γ</text>
<text x="1599" y="564.7" fill="#ff0000" font-family="'Liberation Sans', Arial, sans-serif" font-weight="bold" font-size="24">=1.1</text>
<text x="1244" y="533.3" font-family="'Liberation Serif', 'Times New Roman', serif" font-weight="bold" font-size="48.5" letter-spacing="1">(f)</text>
</g>
</svg>
</body></html>
